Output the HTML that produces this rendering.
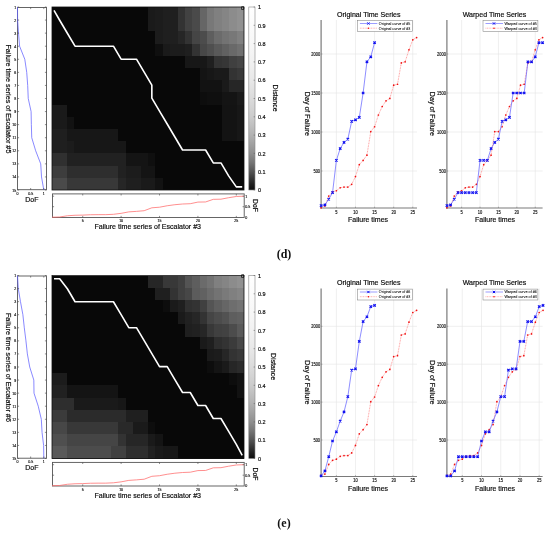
<!DOCTYPE html><html><head><meta charset="utf-8"><style>html,body{margin:0;padding:0;background:#fff;width:550px;height:533px;overflow:hidden}svg{display:block}text{font-family:'Liberation Sans', Arial, sans-serif}</style></head><body>
<svg width="550" height="533" viewBox="0 0 550 533">
<defs><linearGradient id="cb" x1="0" y1="0" x2="0" y2="1"><stop offset="0.000" stop-color="#ffffff"/><stop offset="0.100" stop-color="#fbfbfb"/><stop offset="0.200" stop-color="#f7f7f7"/><stop offset="0.300" stop-color="#f1f1f1"/><stop offset="0.400" stop-color="#e8e8e8"/><stop offset="0.500" stop-color="#dbdbdb"/><stop offset="0.600" stop-color="#cccccc"/><stop offset="0.700" stop-color="#b2b2b2"/><stop offset="0.800" stop-color="#8f8f8f"/><stop offset="0.850" stop-color="#757575"/><stop offset="0.900" stop-color="#545454"/><stop offset="0.950" stop-color="#2e2e2e"/><stop offset="0.970" stop-color="#1f1f1f"/><stop offset="1.000" stop-color="#0d0d0d"/></linearGradient></defs>
<rect width="550" height="533" fill="#fff"/>
<g shape-rendering="crispEdges">
<rect x="52.00" y="7.00" width="7.98" height="12.80" fill="#080808"/>
<rect x="59.38" y="7.00" width="7.98" height="12.80" fill="#080808"/>
<rect x="66.77" y="7.00" width="7.98" height="12.80" fill="#080808"/>
<rect x="74.15" y="7.00" width="7.98" height="12.80" fill="#080808"/>
<rect x="81.54" y="7.00" width="7.98" height="12.80" fill="#080808"/>
<rect x="88.92" y="7.00" width="7.98" height="12.80" fill="#080808"/>
<rect x="96.31" y="7.00" width="7.98" height="12.80" fill="#080808"/>
<rect x="103.69" y="7.00" width="7.98" height="12.80" fill="#080808"/>
<rect x="111.08" y="7.00" width="7.98" height="12.80" fill="#080808"/>
<rect x="118.46" y="7.00" width="7.98" height="12.80" fill="#080808"/>
<rect x="125.85" y="7.00" width="7.98" height="12.80" fill="#080808"/>
<rect x="133.23" y="7.00" width="7.98" height="12.80" fill="#080808"/>
<rect x="140.62" y="7.00" width="7.98" height="12.80" fill="#080808"/>
<rect x="148.00" y="7.00" width="7.98" height="12.80" fill="#1a1a1a"/>
<rect x="155.38" y="7.00" width="7.98" height="12.80" fill="#1c1c1c"/>
<rect x="162.77" y="7.00" width="7.98" height="12.80" fill="#1f1f1f"/>
<rect x="170.15" y="7.00" width="7.98" height="12.80" fill="#1f1f1f"/>
<rect x="177.54" y="7.00" width="7.98" height="12.80" fill="#333333"/>
<rect x="184.92" y="7.00" width="7.98" height="12.80" fill="#424242"/>
<rect x="192.31" y="7.00" width="7.98" height="12.80" fill="#4a4a4a"/>
<rect x="199.69" y="7.00" width="7.98" height="12.80" fill="#666666"/>
<rect x="207.08" y="7.00" width="7.98" height="12.80" fill="#787878"/>
<rect x="214.46" y="7.00" width="7.98" height="12.80" fill="#808080"/>
<rect x="221.85" y="7.00" width="7.98" height="12.80" fill="#858585"/>
<rect x="229.23" y="7.00" width="7.98" height="12.80" fill="#8c8c8c"/>
<rect x="236.62" y="7.00" width="7.38" height="12.80" fill="#919191"/>
<rect x="52.00" y="19.20" width="7.98" height="12.80" fill="#080808"/>
<rect x="59.38" y="19.20" width="7.98" height="12.80" fill="#080808"/>
<rect x="66.77" y="19.20" width="7.98" height="12.80" fill="#080808"/>
<rect x="74.15" y="19.20" width="7.98" height="12.80" fill="#080808"/>
<rect x="81.54" y="19.20" width="7.98" height="12.80" fill="#080808"/>
<rect x="88.92" y="19.20" width="7.98" height="12.80" fill="#080808"/>
<rect x="96.31" y="19.20" width="7.98" height="12.80" fill="#080808"/>
<rect x="103.69" y="19.20" width="7.98" height="12.80" fill="#080808"/>
<rect x="111.08" y="19.20" width="7.98" height="12.80" fill="#080808"/>
<rect x="118.46" y="19.20" width="7.98" height="12.80" fill="#080808"/>
<rect x="125.85" y="19.20" width="7.98" height="12.80" fill="#080808"/>
<rect x="133.23" y="19.20" width="7.98" height="12.80" fill="#080808"/>
<rect x="140.62" y="19.20" width="7.98" height="12.80" fill="#080808"/>
<rect x="148.00" y="19.20" width="7.98" height="12.80" fill="#1a1a1a"/>
<rect x="155.38" y="19.20" width="7.98" height="12.80" fill="#1c1c1c"/>
<rect x="162.77" y="19.20" width="7.98" height="12.80" fill="#1f1f1f"/>
<rect x="170.15" y="19.20" width="7.98" height="12.80" fill="#1f1f1f"/>
<rect x="177.54" y="19.20" width="7.98" height="12.80" fill="#333333"/>
<rect x="184.92" y="19.20" width="7.98" height="12.80" fill="#424242"/>
<rect x="192.31" y="19.20" width="7.98" height="12.80" fill="#4a4a4a"/>
<rect x="199.69" y="19.20" width="7.98" height="12.80" fill="#666666"/>
<rect x="207.08" y="19.20" width="7.98" height="12.80" fill="#787878"/>
<rect x="214.46" y="19.20" width="7.98" height="12.80" fill="#808080"/>
<rect x="221.85" y="19.20" width="7.98" height="12.80" fill="#858585"/>
<rect x="229.23" y="19.20" width="7.98" height="12.80" fill="#8c8c8c"/>
<rect x="236.62" y="19.20" width="7.38" height="12.80" fill="#919191"/>
<rect x="52.00" y="31.40" width="7.98" height="12.80" fill="#080808"/>
<rect x="59.38" y="31.40" width="7.98" height="12.80" fill="#080808"/>
<rect x="66.77" y="31.40" width="7.98" height="12.80" fill="#080808"/>
<rect x="74.15" y="31.40" width="7.98" height="12.80" fill="#080808"/>
<rect x="81.54" y="31.40" width="7.98" height="12.80" fill="#080808"/>
<rect x="88.92" y="31.40" width="7.98" height="12.80" fill="#080808"/>
<rect x="96.31" y="31.40" width="7.98" height="12.80" fill="#080808"/>
<rect x="103.69" y="31.40" width="7.98" height="12.80" fill="#080808"/>
<rect x="111.08" y="31.40" width="7.98" height="12.80" fill="#080808"/>
<rect x="118.46" y="31.40" width="7.98" height="12.80" fill="#080808"/>
<rect x="125.85" y="31.40" width="7.98" height="12.80" fill="#080808"/>
<rect x="133.23" y="31.40" width="7.98" height="12.80" fill="#080808"/>
<rect x="140.62" y="31.40" width="7.98" height="12.80" fill="#080808"/>
<rect x="148.00" y="31.40" width="7.98" height="12.80" fill="#080808"/>
<rect x="155.38" y="31.40" width="7.98" height="12.80" fill="#1c1c1c"/>
<rect x="162.77" y="31.40" width="7.98" height="12.80" fill="#1f1f1f"/>
<rect x="170.15" y="31.40" width="7.98" height="12.80" fill="#1f1f1f"/>
<rect x="177.54" y="31.40" width="7.98" height="12.80" fill="#262626"/>
<rect x="184.92" y="31.40" width="7.98" height="12.80" fill="#333333"/>
<rect x="192.31" y="31.40" width="7.98" height="12.80" fill="#454545"/>
<rect x="199.69" y="31.40" width="7.98" height="12.80" fill="#4c4c4c"/>
<rect x="207.08" y="31.40" width="7.98" height="12.80" fill="#5e5e5e"/>
<rect x="214.46" y="31.40" width="7.98" height="12.80" fill="#6b6b6b"/>
<rect x="221.85" y="31.40" width="7.98" height="12.80" fill="#737373"/>
<rect x="229.23" y="31.40" width="7.98" height="12.80" fill="#787878"/>
<rect x="236.62" y="31.40" width="7.38" height="12.80" fill="#808080"/>
<rect x="52.00" y="43.60" width="7.98" height="12.80" fill="#080808"/>
<rect x="59.38" y="43.60" width="7.98" height="12.80" fill="#080808"/>
<rect x="66.77" y="43.60" width="7.98" height="12.80" fill="#080808"/>
<rect x="74.15" y="43.60" width="7.98" height="12.80" fill="#080808"/>
<rect x="81.54" y="43.60" width="7.98" height="12.80" fill="#080808"/>
<rect x="88.92" y="43.60" width="7.98" height="12.80" fill="#080808"/>
<rect x="96.31" y="43.60" width="7.98" height="12.80" fill="#080808"/>
<rect x="103.69" y="43.60" width="7.98" height="12.80" fill="#080808"/>
<rect x="111.08" y="43.60" width="7.98" height="12.80" fill="#080808"/>
<rect x="118.46" y="43.60" width="7.98" height="12.80" fill="#080808"/>
<rect x="125.85" y="43.60" width="7.98" height="12.80" fill="#080808"/>
<rect x="133.23" y="43.60" width="7.98" height="12.80" fill="#080808"/>
<rect x="140.62" y="43.60" width="7.98" height="12.80" fill="#080808"/>
<rect x="148.00" y="43.60" width="7.98" height="12.80" fill="#080808"/>
<rect x="155.38" y="43.60" width="7.98" height="12.80" fill="#0f0f0f"/>
<rect x="162.77" y="43.60" width="7.98" height="12.80" fill="#1a1a1a"/>
<rect x="170.15" y="43.60" width="7.98" height="12.80" fill="#1c1c1c"/>
<rect x="177.54" y="43.60" width="7.98" height="12.80" fill="#1c1c1c"/>
<rect x="184.92" y="43.60" width="7.98" height="12.80" fill="#1f1f1f"/>
<rect x="192.31" y="43.60" width="7.98" height="12.80" fill="#333333"/>
<rect x="199.69" y="43.60" width="7.98" height="12.80" fill="#474747"/>
<rect x="207.08" y="43.60" width="7.98" height="12.80" fill="#4f4f4f"/>
<rect x="214.46" y="43.60" width="7.98" height="12.80" fill="#595959"/>
<rect x="221.85" y="43.60" width="7.98" height="12.80" fill="#616161"/>
<rect x="229.23" y="43.60" width="7.98" height="12.80" fill="#696969"/>
<rect x="236.62" y="43.60" width="7.38" height="12.80" fill="#707070"/>
<rect x="52.00" y="55.80" width="7.98" height="12.80" fill="#080808"/>
<rect x="59.38" y="55.80" width="7.98" height="12.80" fill="#080808"/>
<rect x="66.77" y="55.80" width="7.98" height="12.80" fill="#080808"/>
<rect x="74.15" y="55.80" width="7.98" height="12.80" fill="#080808"/>
<rect x="81.54" y="55.80" width="7.98" height="12.80" fill="#080808"/>
<rect x="88.92" y="55.80" width="7.98" height="12.80" fill="#080808"/>
<rect x="96.31" y="55.80" width="7.98" height="12.80" fill="#080808"/>
<rect x="103.69" y="55.80" width="7.98" height="12.80" fill="#080808"/>
<rect x="111.08" y="55.80" width="7.98" height="12.80" fill="#080808"/>
<rect x="118.46" y="55.80" width="7.98" height="12.80" fill="#080808"/>
<rect x="125.85" y="55.80" width="7.98" height="12.80" fill="#080808"/>
<rect x="133.23" y="55.80" width="7.98" height="12.80" fill="#080808"/>
<rect x="140.62" y="55.80" width="7.98" height="12.80" fill="#080808"/>
<rect x="148.00" y="55.80" width="7.98" height="12.80" fill="#080808"/>
<rect x="155.38" y="55.80" width="7.98" height="12.80" fill="#080808"/>
<rect x="162.77" y="55.80" width="7.98" height="12.80" fill="#080808"/>
<rect x="170.15" y="55.80" width="7.98" height="12.80" fill="#080808"/>
<rect x="177.54" y="55.80" width="7.98" height="12.80" fill="#080808"/>
<rect x="184.92" y="55.80" width="7.98" height="12.80" fill="#171717"/>
<rect x="192.31" y="55.80" width="7.98" height="12.80" fill="#171717"/>
<rect x="199.69" y="55.80" width="7.98" height="12.80" fill="#171717"/>
<rect x="207.08" y="55.80" width="7.98" height="12.80" fill="#1f1f1f"/>
<rect x="214.46" y="55.80" width="7.98" height="12.80" fill="#333333"/>
<rect x="221.85" y="55.80" width="7.98" height="12.80" fill="#363636"/>
<rect x="229.23" y="55.80" width="7.98" height="12.80" fill="#404040"/>
<rect x="236.62" y="55.80" width="7.38" height="12.80" fill="#454545"/>
<rect x="52.00" y="68.00" width="7.98" height="12.80" fill="#080808"/>
<rect x="59.38" y="68.00" width="7.98" height="12.80" fill="#080808"/>
<rect x="66.77" y="68.00" width="7.98" height="12.80" fill="#080808"/>
<rect x="74.15" y="68.00" width="7.98" height="12.80" fill="#080808"/>
<rect x="81.54" y="68.00" width="7.98" height="12.80" fill="#080808"/>
<rect x="88.92" y="68.00" width="7.98" height="12.80" fill="#080808"/>
<rect x="96.31" y="68.00" width="7.98" height="12.80" fill="#080808"/>
<rect x="103.69" y="68.00" width="7.98" height="12.80" fill="#080808"/>
<rect x="111.08" y="68.00" width="7.98" height="12.80" fill="#080808"/>
<rect x="118.46" y="68.00" width="7.98" height="12.80" fill="#080808"/>
<rect x="125.85" y="68.00" width="7.98" height="12.80" fill="#080808"/>
<rect x="133.23" y="68.00" width="7.98" height="12.80" fill="#080808"/>
<rect x="140.62" y="68.00" width="7.98" height="12.80" fill="#080808"/>
<rect x="148.00" y="68.00" width="7.98" height="12.80" fill="#080808"/>
<rect x="155.38" y="68.00" width="7.98" height="12.80" fill="#080808"/>
<rect x="162.77" y="68.00" width="7.98" height="12.80" fill="#080808"/>
<rect x="170.15" y="68.00" width="7.98" height="12.80" fill="#080808"/>
<rect x="177.54" y="68.00" width="7.98" height="12.80" fill="#080808"/>
<rect x="184.92" y="68.00" width="7.98" height="12.80" fill="#080808"/>
<rect x="192.31" y="68.00" width="7.98" height="12.80" fill="#080808"/>
<rect x="199.69" y="68.00" width="7.98" height="12.80" fill="#141414"/>
<rect x="207.08" y="68.00" width="7.98" height="12.80" fill="#171717"/>
<rect x="214.46" y="68.00" width="7.98" height="12.80" fill="#1a1a1a"/>
<rect x="221.85" y="68.00" width="7.98" height="12.80" fill="#1a1a1a"/>
<rect x="229.23" y="68.00" width="7.98" height="12.80" fill="#333333"/>
<rect x="236.62" y="68.00" width="7.38" height="12.80" fill="#383838"/>
<rect x="52.00" y="80.20" width="7.98" height="12.80" fill="#080808"/>
<rect x="59.38" y="80.20" width="7.98" height="12.80" fill="#080808"/>
<rect x="66.77" y="80.20" width="7.98" height="12.80" fill="#080808"/>
<rect x="74.15" y="80.20" width="7.98" height="12.80" fill="#080808"/>
<rect x="81.54" y="80.20" width="7.98" height="12.80" fill="#080808"/>
<rect x="88.92" y="80.20" width="7.98" height="12.80" fill="#080808"/>
<rect x="96.31" y="80.20" width="7.98" height="12.80" fill="#080808"/>
<rect x="103.69" y="80.20" width="7.98" height="12.80" fill="#080808"/>
<rect x="111.08" y="80.20" width="7.98" height="12.80" fill="#080808"/>
<rect x="118.46" y="80.20" width="7.98" height="12.80" fill="#080808"/>
<rect x="125.85" y="80.20" width="7.98" height="12.80" fill="#080808"/>
<rect x="133.23" y="80.20" width="7.98" height="12.80" fill="#080808"/>
<rect x="140.62" y="80.20" width="7.98" height="12.80" fill="#080808"/>
<rect x="148.00" y="80.20" width="7.98" height="12.80" fill="#080808"/>
<rect x="155.38" y="80.20" width="7.98" height="12.80" fill="#080808"/>
<rect x="162.77" y="80.20" width="7.98" height="12.80" fill="#080808"/>
<rect x="170.15" y="80.20" width="7.98" height="12.80" fill="#080808"/>
<rect x="177.54" y="80.20" width="7.98" height="12.80" fill="#080808"/>
<rect x="184.92" y="80.20" width="7.98" height="12.80" fill="#080808"/>
<rect x="192.31" y="80.20" width="7.98" height="12.80" fill="#080808"/>
<rect x="199.69" y="80.20" width="7.98" height="12.80" fill="#121212"/>
<rect x="207.08" y="80.20" width="7.98" height="12.80" fill="#121212"/>
<rect x="214.46" y="80.20" width="7.98" height="12.80" fill="#121212"/>
<rect x="221.85" y="80.20" width="7.98" height="12.80" fill="#1a1a1a"/>
<rect x="229.23" y="80.20" width="7.98" height="12.80" fill="#262626"/>
<rect x="236.62" y="80.20" width="7.38" height="12.80" fill="#262626"/>
<rect x="52.00" y="92.40" width="7.98" height="12.80" fill="#080808"/>
<rect x="59.38" y="92.40" width="7.98" height="12.80" fill="#080808"/>
<rect x="66.77" y="92.40" width="7.98" height="12.80" fill="#080808"/>
<rect x="74.15" y="92.40" width="7.98" height="12.80" fill="#080808"/>
<rect x="81.54" y="92.40" width="7.98" height="12.80" fill="#080808"/>
<rect x="88.92" y="92.40" width="7.98" height="12.80" fill="#080808"/>
<rect x="96.31" y="92.40" width="7.98" height="12.80" fill="#080808"/>
<rect x="103.69" y="92.40" width="7.98" height="12.80" fill="#080808"/>
<rect x="111.08" y="92.40" width="7.98" height="12.80" fill="#080808"/>
<rect x="118.46" y="92.40" width="7.98" height="12.80" fill="#080808"/>
<rect x="125.85" y="92.40" width="7.98" height="12.80" fill="#080808"/>
<rect x="133.23" y="92.40" width="7.98" height="12.80" fill="#080808"/>
<rect x="140.62" y="92.40" width="7.98" height="12.80" fill="#080808"/>
<rect x="148.00" y="92.40" width="7.98" height="12.80" fill="#080808"/>
<rect x="155.38" y="92.40" width="7.98" height="12.80" fill="#080808"/>
<rect x="162.77" y="92.40" width="7.98" height="12.80" fill="#080808"/>
<rect x="170.15" y="92.40" width="7.98" height="12.80" fill="#080808"/>
<rect x="177.54" y="92.40" width="7.98" height="12.80" fill="#080808"/>
<rect x="184.92" y="92.40" width="7.98" height="12.80" fill="#080808"/>
<rect x="192.31" y="92.40" width="7.98" height="12.80" fill="#080808"/>
<rect x="199.69" y="92.40" width="7.98" height="12.80" fill="#0d0d0d"/>
<rect x="207.08" y="92.40" width="7.98" height="12.80" fill="#0f0f0f"/>
<rect x="214.46" y="92.40" width="7.98" height="12.80" fill="#0f0f0f"/>
<rect x="221.85" y="92.40" width="7.98" height="12.80" fill="#141414"/>
<rect x="229.23" y="92.40" width="7.98" height="12.80" fill="#141414"/>
<rect x="236.62" y="92.40" width="7.38" height="12.80" fill="#1a1a1a"/>
<rect x="52.00" y="104.60" width="7.98" height="12.80" fill="#1a1a1a"/>
<rect x="59.38" y="104.60" width="7.98" height="12.80" fill="#1a1a1a"/>
<rect x="66.77" y="104.60" width="7.98" height="12.80" fill="#080808"/>
<rect x="74.15" y="104.60" width="7.98" height="12.80" fill="#080808"/>
<rect x="81.54" y="104.60" width="7.98" height="12.80" fill="#080808"/>
<rect x="88.92" y="104.60" width="7.98" height="12.80" fill="#080808"/>
<rect x="96.31" y="104.60" width="7.98" height="12.80" fill="#080808"/>
<rect x="103.69" y="104.60" width="7.98" height="12.80" fill="#080808"/>
<rect x="111.08" y="104.60" width="7.98" height="12.80" fill="#080808"/>
<rect x="118.46" y="104.60" width="7.98" height="12.80" fill="#080808"/>
<rect x="125.85" y="104.60" width="7.98" height="12.80" fill="#080808"/>
<rect x="133.23" y="104.60" width="7.98" height="12.80" fill="#080808"/>
<rect x="140.62" y="104.60" width="7.98" height="12.80" fill="#080808"/>
<rect x="148.00" y="104.60" width="7.98" height="12.80" fill="#080808"/>
<rect x="155.38" y="104.60" width="7.98" height="12.80" fill="#080808"/>
<rect x="162.77" y="104.60" width="7.98" height="12.80" fill="#080808"/>
<rect x="170.15" y="104.60" width="7.98" height="12.80" fill="#080808"/>
<rect x="177.54" y="104.60" width="7.98" height="12.80" fill="#080808"/>
<rect x="184.92" y="104.60" width="7.98" height="12.80" fill="#080808"/>
<rect x="192.31" y="104.60" width="7.98" height="12.80" fill="#080808"/>
<rect x="199.69" y="104.60" width="7.98" height="12.80" fill="#080808"/>
<rect x="207.08" y="104.60" width="7.98" height="12.80" fill="#080808"/>
<rect x="214.46" y="104.60" width="7.98" height="12.80" fill="#080808"/>
<rect x="221.85" y="104.60" width="7.98" height="12.80" fill="#131313"/>
<rect x="229.23" y="104.60" width="7.98" height="12.80" fill="#131313"/>
<rect x="236.62" y="104.60" width="7.38" height="12.80" fill="#171717"/>
<rect x="52.00" y="116.80" width="7.98" height="12.80" fill="#1a1a1a"/>
<rect x="59.38" y="116.80" width="7.98" height="12.80" fill="#1a1a1a"/>
<rect x="66.77" y="116.80" width="7.98" height="12.80" fill="#121212"/>
<rect x="74.15" y="116.80" width="7.98" height="12.80" fill="#080808"/>
<rect x="81.54" y="116.80" width="7.98" height="12.80" fill="#080808"/>
<rect x="88.92" y="116.80" width="7.98" height="12.80" fill="#080808"/>
<rect x="96.31" y="116.80" width="7.98" height="12.80" fill="#080808"/>
<rect x="103.69" y="116.80" width="7.98" height="12.80" fill="#080808"/>
<rect x="111.08" y="116.80" width="7.98" height="12.80" fill="#080808"/>
<rect x="118.46" y="116.80" width="7.98" height="12.80" fill="#080808"/>
<rect x="125.85" y="116.80" width="7.98" height="12.80" fill="#080808"/>
<rect x="133.23" y="116.80" width="7.98" height="12.80" fill="#080808"/>
<rect x="140.62" y="116.80" width="7.98" height="12.80" fill="#080808"/>
<rect x="148.00" y="116.80" width="7.98" height="12.80" fill="#080808"/>
<rect x="155.38" y="116.80" width="7.98" height="12.80" fill="#080808"/>
<rect x="162.77" y="116.80" width="7.98" height="12.80" fill="#080808"/>
<rect x="170.15" y="116.80" width="7.98" height="12.80" fill="#080808"/>
<rect x="177.54" y="116.80" width="7.98" height="12.80" fill="#080808"/>
<rect x="184.92" y="116.80" width="7.98" height="12.80" fill="#080808"/>
<rect x="192.31" y="116.80" width="7.98" height="12.80" fill="#080808"/>
<rect x="199.69" y="116.80" width="7.98" height="12.80" fill="#080808"/>
<rect x="207.08" y="116.80" width="7.98" height="12.80" fill="#080808"/>
<rect x="214.46" y="116.80" width="7.98" height="12.80" fill="#080808"/>
<rect x="221.85" y="116.80" width="7.98" height="12.80" fill="#131313"/>
<rect x="229.23" y="116.80" width="7.98" height="12.80" fill="#131313"/>
<rect x="236.62" y="116.80" width="7.38" height="12.80" fill="#171717"/>
<rect x="52.00" y="129.00" width="7.98" height="12.80" fill="#1f1f1f"/>
<rect x="59.38" y="129.00" width="7.98" height="12.80" fill="#1f1f1f"/>
<rect x="66.77" y="129.00" width="7.98" height="12.80" fill="#171717"/>
<rect x="74.15" y="129.00" width="7.98" height="12.80" fill="#171717"/>
<rect x="81.54" y="129.00" width="7.98" height="12.80" fill="#171717"/>
<rect x="88.92" y="129.00" width="7.98" height="12.80" fill="#171717"/>
<rect x="96.31" y="129.00" width="7.98" height="12.80" fill="#171717"/>
<rect x="103.69" y="129.00" width="7.98" height="12.80" fill="#171717"/>
<rect x="111.08" y="129.00" width="7.98" height="12.80" fill="#171717"/>
<rect x="118.46" y="129.00" width="7.98" height="12.80" fill="#080808"/>
<rect x="125.85" y="129.00" width="7.98" height="12.80" fill="#080808"/>
<rect x="133.23" y="129.00" width="7.98" height="12.80" fill="#080808"/>
<rect x="140.62" y="129.00" width="7.98" height="12.80" fill="#080808"/>
<rect x="148.00" y="129.00" width="7.98" height="12.80" fill="#080808"/>
<rect x="155.38" y="129.00" width="7.98" height="12.80" fill="#080808"/>
<rect x="162.77" y="129.00" width="7.98" height="12.80" fill="#080808"/>
<rect x="170.15" y="129.00" width="7.98" height="12.80" fill="#080808"/>
<rect x="177.54" y="129.00" width="7.98" height="12.80" fill="#080808"/>
<rect x="184.92" y="129.00" width="7.98" height="12.80" fill="#080808"/>
<rect x="192.31" y="129.00" width="7.98" height="12.80" fill="#080808"/>
<rect x="199.69" y="129.00" width="7.98" height="12.80" fill="#080808"/>
<rect x="207.08" y="129.00" width="7.98" height="12.80" fill="#080808"/>
<rect x="214.46" y="129.00" width="7.98" height="12.80" fill="#080808"/>
<rect x="221.85" y="129.00" width="7.98" height="12.80" fill="#131313"/>
<rect x="229.23" y="129.00" width="7.98" height="12.80" fill="#131313"/>
<rect x="236.62" y="129.00" width="7.38" height="12.80" fill="#171717"/>
<rect x="52.00" y="141.20" width="7.98" height="12.80" fill="#1f1f1f"/>
<rect x="59.38" y="141.20" width="7.98" height="12.80" fill="#1f1f1f"/>
<rect x="66.77" y="141.20" width="7.98" height="12.80" fill="#1c1c1c"/>
<rect x="74.15" y="141.20" width="7.98" height="12.80" fill="#171717"/>
<rect x="81.54" y="141.20" width="7.98" height="12.80" fill="#171717"/>
<rect x="88.92" y="141.20" width="7.98" height="12.80" fill="#171717"/>
<rect x="96.31" y="141.20" width="7.98" height="12.80" fill="#171717"/>
<rect x="103.69" y="141.20" width="7.98" height="12.80" fill="#171717"/>
<rect x="111.08" y="141.20" width="7.98" height="12.80" fill="#171717"/>
<rect x="118.46" y="141.20" width="7.98" height="12.80" fill="#171717"/>
<rect x="125.85" y="141.20" width="7.98" height="12.80" fill="#080808"/>
<rect x="133.23" y="141.20" width="7.98" height="12.80" fill="#080808"/>
<rect x="140.62" y="141.20" width="7.98" height="12.80" fill="#080808"/>
<rect x="148.00" y="141.20" width="7.98" height="12.80" fill="#080808"/>
<rect x="155.38" y="141.20" width="7.98" height="12.80" fill="#080808"/>
<rect x="162.77" y="141.20" width="7.98" height="12.80" fill="#080808"/>
<rect x="170.15" y="141.20" width="7.98" height="12.80" fill="#080808"/>
<rect x="177.54" y="141.20" width="7.98" height="12.80" fill="#080808"/>
<rect x="184.92" y="141.20" width="7.98" height="12.80" fill="#080808"/>
<rect x="192.31" y="141.20" width="7.98" height="12.80" fill="#080808"/>
<rect x="199.69" y="141.20" width="7.98" height="12.80" fill="#080808"/>
<rect x="207.08" y="141.20" width="7.98" height="12.80" fill="#080808"/>
<rect x="214.46" y="141.20" width="7.98" height="12.80" fill="#080808"/>
<rect x="221.85" y="141.20" width="7.98" height="12.80" fill="#080808"/>
<rect x="229.23" y="141.20" width="7.98" height="12.80" fill="#080808"/>
<rect x="236.62" y="141.20" width="7.38" height="12.80" fill="#080808"/>
<rect x="52.00" y="153.40" width="7.98" height="12.80" fill="#303030"/>
<rect x="59.38" y="153.40" width="7.98" height="12.80" fill="#303030"/>
<rect x="66.77" y="153.40" width="7.98" height="12.80" fill="#212121"/>
<rect x="74.15" y="153.40" width="7.98" height="12.80" fill="#212121"/>
<rect x="81.54" y="153.40" width="7.98" height="12.80" fill="#212121"/>
<rect x="88.92" y="153.40" width="7.98" height="12.80" fill="#212121"/>
<rect x="96.31" y="153.40" width="7.98" height="12.80" fill="#212121"/>
<rect x="103.69" y="153.40" width="7.98" height="12.80" fill="#212121"/>
<rect x="111.08" y="153.40" width="7.98" height="12.80" fill="#212121"/>
<rect x="118.46" y="153.40" width="7.98" height="12.80" fill="#212121"/>
<rect x="125.85" y="153.40" width="7.98" height="12.80" fill="#141414"/>
<rect x="133.23" y="153.40" width="7.98" height="12.80" fill="#141414"/>
<rect x="140.62" y="153.40" width="7.98" height="12.80" fill="#141414"/>
<rect x="148.00" y="153.40" width="7.98" height="12.80" fill="#0f0f0f"/>
<rect x="155.38" y="153.40" width="7.98" height="12.80" fill="#080808"/>
<rect x="162.77" y="153.40" width="7.98" height="12.80" fill="#080808"/>
<rect x="170.15" y="153.40" width="7.98" height="12.80" fill="#080808"/>
<rect x="177.54" y="153.40" width="7.98" height="12.80" fill="#080808"/>
<rect x="184.92" y="153.40" width="7.98" height="12.80" fill="#080808"/>
<rect x="192.31" y="153.40" width="7.98" height="12.80" fill="#080808"/>
<rect x="199.69" y="153.40" width="7.98" height="12.80" fill="#080808"/>
<rect x="207.08" y="153.40" width="7.98" height="12.80" fill="#080808"/>
<rect x="214.46" y="153.40" width="7.98" height="12.80" fill="#080808"/>
<rect x="221.85" y="153.40" width="7.98" height="12.80" fill="#080808"/>
<rect x="229.23" y="153.40" width="7.98" height="12.80" fill="#080808"/>
<rect x="236.62" y="153.40" width="7.38" height="12.80" fill="#080808"/>
<rect x="52.00" y="165.60" width="7.98" height="12.80" fill="#3d3d3d"/>
<rect x="59.38" y="165.60" width="7.98" height="12.80" fill="#3d3d3d"/>
<rect x="66.77" y="165.60" width="7.98" height="12.80" fill="#2e2e2e"/>
<rect x="74.15" y="165.60" width="7.98" height="12.80" fill="#2e2e2e"/>
<rect x="81.54" y="165.60" width="7.98" height="12.80" fill="#2e2e2e"/>
<rect x="88.92" y="165.60" width="7.98" height="12.80" fill="#2e2e2e"/>
<rect x="96.31" y="165.60" width="7.98" height="12.80" fill="#2e2e2e"/>
<rect x="103.69" y="165.60" width="7.98" height="12.80" fill="#2e2e2e"/>
<rect x="111.08" y="165.60" width="7.98" height="12.80" fill="#2e2e2e"/>
<rect x="118.46" y="165.60" width="7.98" height="12.80" fill="#212121"/>
<rect x="125.85" y="165.60" width="7.98" height="12.80" fill="#1c1c1c"/>
<rect x="133.23" y="165.60" width="7.98" height="12.80" fill="#1c1c1c"/>
<rect x="140.62" y="165.60" width="7.98" height="12.80" fill="#141414"/>
<rect x="148.00" y="165.60" width="7.98" height="12.80" fill="#141414"/>
<rect x="155.38" y="165.60" width="7.98" height="12.80" fill="#080808"/>
<rect x="162.77" y="165.60" width="7.98" height="12.80" fill="#080808"/>
<rect x="170.15" y="165.60" width="7.98" height="12.80" fill="#080808"/>
<rect x="177.54" y="165.60" width="7.98" height="12.80" fill="#080808"/>
<rect x="184.92" y="165.60" width="7.98" height="12.80" fill="#080808"/>
<rect x="192.31" y="165.60" width="7.98" height="12.80" fill="#080808"/>
<rect x="199.69" y="165.60" width="7.98" height="12.80" fill="#080808"/>
<rect x="207.08" y="165.60" width="7.98" height="12.80" fill="#080808"/>
<rect x="214.46" y="165.60" width="7.98" height="12.80" fill="#080808"/>
<rect x="221.85" y="165.60" width="7.98" height="12.80" fill="#080808"/>
<rect x="229.23" y="165.60" width="7.98" height="12.80" fill="#080808"/>
<rect x="236.62" y="165.60" width="7.38" height="12.80" fill="#080808"/>
<rect x="52.00" y="177.80" width="7.98" height="12.20" fill="#4a4a4a"/>
<rect x="59.38" y="177.80" width="7.98" height="12.20" fill="#4a4a4a"/>
<rect x="66.77" y="177.80" width="7.98" height="12.20" fill="#383838"/>
<rect x="74.15" y="177.80" width="7.98" height="12.20" fill="#383838"/>
<rect x="81.54" y="177.80" width="7.98" height="12.20" fill="#383838"/>
<rect x="88.92" y="177.80" width="7.98" height="12.20" fill="#383838"/>
<rect x="96.31" y="177.80" width="7.98" height="12.20" fill="#383838"/>
<rect x="103.69" y="177.80" width="7.98" height="12.20" fill="#383838"/>
<rect x="111.08" y="177.80" width="7.98" height="12.20" fill="#383838"/>
<rect x="118.46" y="177.80" width="7.98" height="12.20" fill="#262626"/>
<rect x="125.85" y="177.80" width="7.98" height="12.20" fill="#1f1f1f"/>
<rect x="133.23" y="177.80" width="7.98" height="12.20" fill="#1f1f1f"/>
<rect x="140.62" y="177.80" width="7.98" height="12.20" fill="#1a1a1a"/>
<rect x="148.00" y="177.80" width="7.98" height="12.20" fill="#1a1a1a"/>
<rect x="155.38" y="177.80" width="7.98" height="12.20" fill="#121212"/>
<rect x="162.77" y="177.80" width="7.98" height="12.20" fill="#080808"/>
<rect x="170.15" y="177.80" width="7.98" height="12.20" fill="#080808"/>
<rect x="177.54" y="177.80" width="7.98" height="12.20" fill="#080808"/>
<rect x="184.92" y="177.80" width="7.98" height="12.20" fill="#080808"/>
<rect x="192.31" y="177.80" width="7.98" height="12.20" fill="#080808"/>
<rect x="199.69" y="177.80" width="7.98" height="12.20" fill="#080808"/>
<rect x="207.08" y="177.80" width="7.98" height="12.20" fill="#080808"/>
<rect x="214.46" y="177.80" width="7.98" height="12.20" fill="#080808"/>
<rect x="221.85" y="177.80" width="7.98" height="12.20" fill="#080808"/>
<rect x="229.23" y="177.80" width="7.98" height="12.20" fill="#080808"/>
<rect x="236.62" y="177.80" width="7.38" height="12.20" fill="#080808"/>
</g>
<rect x="52" y="7" width="192" height="183" fill="none" stroke="#111" stroke-width="0.8"/>
<polyline points="54.00,10.30 59.68,20.27 67.36,33.24 75.04,46.21 82.72,46.21 90.40,46.21 98.08,46.21 105.76,46.21 113.44,46.21 121.12,59.18 128.80,59.18 136.48,59.18 144.16,72.15 151.84,85.12 151.84,98.09 159.52,111.06 167.20,124.03 174.88,137.00 182.56,149.97 190.24,149.97 197.92,149.97 205.60,149.97 213.28,162.94 220.96,162.94 228.64,175.91 236.32,186.90 242.20,186.90" fill="none" stroke="#fff" stroke-width="1.6" stroke-linejoin="round"/>
<text transform="translate(242.60 9.60)" font-size="6" text-anchor="middle" fill="#111" stroke="#000" stroke-width="0.18">0</text>
<rect x="248.8" y="7" width="6.2" height="183" fill="url(#cb)" stroke="#888" stroke-width="0.6"/>
<text transform="translate(258.00 9.25) scale(0.9 1)" font-size="6.1" text-anchor="start" fill="#111" stroke="#000" stroke-width="0.18">1</text>
<line x1="253.6" y1="7.00" x2="255" y2="7.00" stroke="#555" stroke-width="0.5"/>
<text transform="translate(258.00 27.55) scale(0.9 1)" font-size="6.1" text-anchor="start" fill="#111" stroke="#000" stroke-width="0.18">0.9</text>
<line x1="253.6" y1="25.30" x2="255" y2="25.30" stroke="#555" stroke-width="0.5"/>
<text transform="translate(258.00 45.85) scale(0.9 1)" font-size="6.1" text-anchor="start" fill="#111" stroke="#000" stroke-width="0.18">0.8</text>
<line x1="253.6" y1="43.60" x2="255" y2="43.60" stroke="#555" stroke-width="0.5"/>
<text transform="translate(258.00 64.15) scale(0.9 1)" font-size="6.1" text-anchor="start" fill="#111" stroke="#000" stroke-width="0.18">0.7</text>
<line x1="253.6" y1="61.90" x2="255" y2="61.90" stroke="#555" stroke-width="0.5"/>
<text transform="translate(258.00 82.45) scale(0.9 1)" font-size="6.1" text-anchor="start" fill="#111" stroke="#000" stroke-width="0.18">0.6</text>
<line x1="253.6" y1="80.20" x2="255" y2="80.20" stroke="#555" stroke-width="0.5"/>
<text transform="translate(258.00 100.75) scale(0.9 1)" font-size="6.1" text-anchor="start" fill="#111" stroke="#000" stroke-width="0.18">0.5</text>
<line x1="253.6" y1="98.50" x2="255" y2="98.50" stroke="#555" stroke-width="0.5"/>
<text transform="translate(258.00 119.05) scale(0.9 1)" font-size="6.1" text-anchor="start" fill="#111" stroke="#000" stroke-width="0.18">0.4</text>
<line x1="253.6" y1="116.80" x2="255" y2="116.80" stroke="#555" stroke-width="0.5"/>
<text transform="translate(258.00 137.35) scale(0.9 1)" font-size="6.1" text-anchor="start" fill="#111" stroke="#000" stroke-width="0.18">0.3</text>
<line x1="253.6" y1="135.10" x2="255" y2="135.10" stroke="#555" stroke-width="0.5"/>
<text transform="translate(258.00 155.65) scale(0.9 1)" font-size="6.1" text-anchor="start" fill="#111" stroke="#000" stroke-width="0.18">0.2</text>
<line x1="253.6" y1="153.40" x2="255" y2="153.40" stroke="#555" stroke-width="0.5"/>
<text transform="translate(258.00 173.95) scale(0.9 1)" font-size="6.1" text-anchor="start" fill="#111" stroke="#000" stroke-width="0.18">0.1</text>
<line x1="253.6" y1="171.70" x2="255" y2="171.70" stroke="#555" stroke-width="0.5"/>
<text transform="translate(258.00 192.25) scale(0.9 1)" font-size="6.1" text-anchor="start" fill="#111" stroke="#000" stroke-width="0.18">0</text>
<line x1="253.6" y1="190.00" x2="255" y2="190.00" stroke="#555" stroke-width="0.5"/>
<text transform="translate(273.10 98.05) rotate(90)" font-size="6.9" text-anchor="middle" fill="#111" stroke="#000" stroke-width="0.18" textLength="26.9" lengthAdjust="spacingAndGlyphs">Distance</text>
<rect x="17.5" y="7.5" width="29.0" height="182.2" fill="#fff" stroke="#555" stroke-width="0.9"/>
<polyline points="17.50,7.00 17.61,20.07 18.53,33.14 19.60,46.21 24.80,59.29 26.72,72.36 27.70,85.43 28.24,98.50 31.10,111.57 31.35,124.64 31.74,137.71 35.68,150.79 40.72,163.86 41.52,176.93 43.80,190.00" fill="none" stroke="#6262ff" stroke-width="0.75"/>
<text transform="translate(16.20 8.50) scale(0.85 1)" font-size="4.2" text-anchor="end" fill="#222" stroke="#000" stroke-width="0.16">1</text>
<line x1="17.5" y1="7.00" x2="19.1" y2="7.00" stroke="#444" stroke-width="0.6"/>
<line x1="44.9" y1="7.00" x2="46.5" y2="7.00" stroke="#444" stroke-width="0.6"/>
<text transform="translate(16.20 21.57) scale(0.85 1)" font-size="4.2" text-anchor="end" fill="#222" stroke="#000" stroke-width="0.16">2</text>
<line x1="17.5" y1="20.07" x2="19.1" y2="20.07" stroke="#444" stroke-width="0.6"/>
<line x1="44.9" y1="20.07" x2="46.5" y2="20.07" stroke="#444" stroke-width="0.6"/>
<text transform="translate(16.20 34.64) scale(0.85 1)" font-size="4.2" text-anchor="end" fill="#222" stroke="#000" stroke-width="0.16">3</text>
<line x1="17.5" y1="33.14" x2="19.1" y2="33.14" stroke="#444" stroke-width="0.6"/>
<line x1="44.9" y1="33.14" x2="46.5" y2="33.14" stroke="#444" stroke-width="0.6"/>
<text transform="translate(16.20 47.71) scale(0.85 1)" font-size="4.2" text-anchor="end" fill="#222" stroke="#000" stroke-width="0.16">4</text>
<line x1="17.5" y1="46.21" x2="19.1" y2="46.21" stroke="#444" stroke-width="0.6"/>
<line x1="44.9" y1="46.21" x2="46.5" y2="46.21" stroke="#444" stroke-width="0.6"/>
<text transform="translate(16.20 60.79) scale(0.85 1)" font-size="4.2" text-anchor="end" fill="#222" stroke="#000" stroke-width="0.16">5</text>
<line x1="17.5" y1="59.29" x2="19.1" y2="59.29" stroke="#444" stroke-width="0.6"/>
<line x1="44.9" y1="59.29" x2="46.5" y2="59.29" stroke="#444" stroke-width="0.6"/>
<text transform="translate(16.20 73.86) scale(0.85 1)" font-size="4.2" text-anchor="end" fill="#222" stroke="#000" stroke-width="0.16">6</text>
<line x1="17.5" y1="72.36" x2="19.1" y2="72.36" stroke="#444" stroke-width="0.6"/>
<line x1="44.9" y1="72.36" x2="46.5" y2="72.36" stroke="#444" stroke-width="0.6"/>
<text transform="translate(16.20 86.93) scale(0.85 1)" font-size="4.2" text-anchor="end" fill="#222" stroke="#000" stroke-width="0.16">7</text>
<line x1="17.5" y1="85.43" x2="19.1" y2="85.43" stroke="#444" stroke-width="0.6"/>
<line x1="44.9" y1="85.43" x2="46.5" y2="85.43" stroke="#444" stroke-width="0.6"/>
<text transform="translate(16.20 100.00) scale(0.85 1)" font-size="4.2" text-anchor="end" fill="#222" stroke="#000" stroke-width="0.16">8</text>
<line x1="17.5" y1="98.50" x2="19.1" y2="98.50" stroke="#444" stroke-width="0.6"/>
<line x1="44.9" y1="98.50" x2="46.5" y2="98.50" stroke="#444" stroke-width="0.6"/>
<text transform="translate(16.20 113.07) scale(0.85 1)" font-size="4.2" text-anchor="end" fill="#222" stroke="#000" stroke-width="0.16">9</text>
<line x1="17.5" y1="111.57" x2="19.1" y2="111.57" stroke="#444" stroke-width="0.6"/>
<line x1="44.9" y1="111.57" x2="46.5" y2="111.57" stroke="#444" stroke-width="0.6"/>
<text transform="translate(16.20 126.14) scale(0.85 1)" font-size="4.2" text-anchor="end" fill="#222" stroke="#000" stroke-width="0.16">10</text>
<line x1="17.5" y1="124.64" x2="19.1" y2="124.64" stroke="#444" stroke-width="0.6"/>
<line x1="44.9" y1="124.64" x2="46.5" y2="124.64" stroke="#444" stroke-width="0.6"/>
<text transform="translate(16.20 139.21) scale(0.85 1)" font-size="4.2" text-anchor="end" fill="#222" stroke="#000" stroke-width="0.16">11</text>
<line x1="17.5" y1="137.71" x2="19.1" y2="137.71" stroke="#444" stroke-width="0.6"/>
<line x1="44.9" y1="137.71" x2="46.5" y2="137.71" stroke="#444" stroke-width="0.6"/>
<text transform="translate(16.20 152.29) scale(0.85 1)" font-size="4.2" text-anchor="end" fill="#222" stroke="#000" stroke-width="0.16">12</text>
<line x1="17.5" y1="150.79" x2="19.1" y2="150.79" stroke="#444" stroke-width="0.6"/>
<line x1="44.9" y1="150.79" x2="46.5" y2="150.79" stroke="#444" stroke-width="0.6"/>
<text transform="translate(16.20 165.36) scale(0.85 1)" font-size="4.2" text-anchor="end" fill="#222" stroke="#000" stroke-width="0.16">13</text>
<line x1="17.5" y1="163.86" x2="19.1" y2="163.86" stroke="#444" stroke-width="0.6"/>
<line x1="44.9" y1="163.86" x2="46.5" y2="163.86" stroke="#444" stroke-width="0.6"/>
<text transform="translate(16.20 178.43) scale(0.85 1)" font-size="4.2" text-anchor="end" fill="#222" stroke="#000" stroke-width="0.16">14</text>
<line x1="17.5" y1="176.93" x2="19.1" y2="176.93" stroke="#444" stroke-width="0.6"/>
<line x1="44.9" y1="176.93" x2="46.5" y2="176.93" stroke="#444" stroke-width="0.6"/>
<text transform="translate(16.20 191.50) scale(0.85 1)" font-size="4.2" text-anchor="end" fill="#222" stroke="#000" stroke-width="0.16">15</text>
<line x1="17.5" y1="190.00" x2="19.1" y2="190.00" stroke="#444" stroke-width="0.6"/>
<line x1="44.9" y1="190.00" x2="46.5" y2="190.00" stroke="#444" stroke-width="0.6"/>
<text transform="translate(17.50 194.60) scale(0.85 1)" font-size="4.2" text-anchor="middle" fill="#222" stroke="#000" stroke-width="0.16">0</text>
<text transform="translate(30.65 194.60) scale(0.85 1)" font-size="4.2" text-anchor="middle" fill="#222" stroke="#000" stroke-width="0.16">0.5</text>
<line x1="30.65" y1="7.5" x2="30.65" y2="9.1" stroke="#444" stroke-width="0.6"/>
<line x1="30.65" y1="188.0" x2="30.65" y2="189.7" stroke="#444" stroke-width="0.6"/>
<text transform="translate(43.80 194.60) scale(0.85 1)" font-size="4.2" text-anchor="middle" fill="#222" stroke="#000" stroke-width="0.16">1</text>
<line x1="43.80" y1="7.5" x2="43.80" y2="9.1" stroke="#444" stroke-width="0.6"/>
<line x1="43.80" y1="188.0" x2="43.80" y2="189.7" stroke="#444" stroke-width="0.6"/>
<text transform="translate(31.85 201.50)" font-size="6.9" text-anchor="middle" fill="#111" stroke="#000" stroke-width="0.18" textLength="13.1" lengthAdjust="spacingAndGlyphs">DoF</text>
<text transform="translate(5.70 98.90) rotate(90)" font-size="7.1" text-anchor="middle" fill="#111" stroke="#000" stroke-width="0.18" textLength="109" lengthAdjust="spacingAndGlyphs">Failure time series of Escalator #5</text>
<rect x="52.5" y="193.9" width="191.7" height="23.599999999999994" fill="#fff" stroke="#555" stroke-width="0.9"/>
<polyline points="52.00,217.20 59.68,216.99 67.36,215.77 75.04,215.25 82.72,215.10 90.40,214.74 98.08,214.65 105.76,214.65 113.44,214.31 121.12,213.35 128.80,211.89 136.48,211.36 144.16,210.71 151.84,207.81 159.52,207.21 167.20,205.76 174.88,204.71 182.56,204.01 190.24,203.71 197.92,202.08 205.60,201.96 213.28,199.34 220.96,199.19 228.64,197.71 236.32,196.48 244.00,196.20" fill="none" stroke="#ff6a6a" stroke-width="0.75"/>
<text transform="translate(82.72 222.30) scale(0.85 1)" font-size="4.2" text-anchor="middle" fill="#222" stroke="#000" stroke-width="0.16">5</text>
<line x1="82.72" y1="193.9" x2="82.72" y2="195.5" stroke="#444" stroke-width="0.6"/>
<line x1="82.72" y1="215.9" x2="82.72" y2="217.5" stroke="#444" stroke-width="0.6"/>
<text transform="translate(121.12 222.30) scale(0.85 1)" font-size="4.2" text-anchor="middle" fill="#222" stroke="#000" stroke-width="0.16">10</text>
<line x1="121.12" y1="193.9" x2="121.12" y2="195.5" stroke="#444" stroke-width="0.6"/>
<line x1="121.12" y1="215.9" x2="121.12" y2="217.5" stroke="#444" stroke-width="0.6"/>
<text transform="translate(159.52 222.30) scale(0.85 1)" font-size="4.2" text-anchor="middle" fill="#222" stroke="#000" stroke-width="0.16">15</text>
<line x1="159.52" y1="193.9" x2="159.52" y2="195.5" stroke="#444" stroke-width="0.6"/>
<line x1="159.52" y1="215.9" x2="159.52" y2="217.5" stroke="#444" stroke-width="0.6"/>
<text transform="translate(197.92 222.30) scale(0.85 1)" font-size="4.2" text-anchor="middle" fill="#222" stroke="#000" stroke-width="0.16">20</text>
<line x1="197.92" y1="193.9" x2="197.92" y2="195.5" stroke="#444" stroke-width="0.6"/>
<line x1="197.92" y1="215.9" x2="197.92" y2="217.5" stroke="#444" stroke-width="0.6"/>
<text transform="translate(236.32 222.30) scale(0.85 1)" font-size="4.2" text-anchor="middle" fill="#222" stroke="#000" stroke-width="0.16">25</text>
<line x1="236.32" y1="193.9" x2="236.32" y2="195.5" stroke="#444" stroke-width="0.6"/>
<line x1="236.32" y1="215.9" x2="236.32" y2="217.5" stroke="#444" stroke-width="0.6"/>
<text transform="translate(245.20 218.70) scale(0.85 1)" font-size="4.2" text-anchor="start" fill="#222" stroke="#000" stroke-width="0.16">0</text>
<line x1="52.5" y1="206.70" x2="54.1" y2="206.70" stroke="#444" stroke-width="0.6"/>
<line x1="242.6" y1="206.70" x2="244" y2="206.70" stroke="#444" stroke-width="0.6"/>
<text transform="translate(245.20 208.20) scale(0.85 1)" font-size="4.2" text-anchor="start" fill="#222" stroke="#000" stroke-width="0.16">0.5</text>
<line x1="52.5" y1="196.20" x2="54.1" y2="196.20" stroke="#444" stroke-width="0.6"/>
<line x1="242.6" y1="196.20" x2="244" y2="196.20" stroke="#444" stroke-width="0.6"/>
<text transform="translate(245.20 197.70) scale(0.85 1)" font-size="4.2" text-anchor="start" fill="#222" stroke="#000" stroke-width="0.16">1</text>
<text transform="translate(253.20 205.50) rotate(90)" font-size="6.9" text-anchor="middle" fill="#111" stroke="#000" stroke-width="0.18" textLength="12.8" lengthAdjust="spacingAndGlyphs">DoF</text>
<text transform="translate(147.75 229.20)" font-size="7.1" text-anchor="middle" fill="#111" stroke="#000" stroke-width="0.18" textLength="106.5" lengthAdjust="spacingAndGlyphs">Failure time series of Escalator #3</text>
<text x="284" y="258.20" font-size="12" style="font-family:'Liberation Serif', serif;font-weight:bold" text-anchor="middle" fill="#111">(d)</text>
<line x1="336.38" y1="20" x2="336.38" y2="208" stroke="#e4e4e4" stroke-width="0.6"/>
<text transform="translate(336.38 213.70) scale(0.82 1)" font-size="4.9" text-anchor="middle" fill="#222" stroke="#000" stroke-width="0.16">5</text>
<line x1="336.38" y1="206.7" x2="336.38" y2="208" stroke="#666" stroke-width="0.5"/>
<line x1="355.48" y1="20" x2="355.48" y2="208" stroke="#e4e4e4" stroke-width="0.6"/>
<text transform="translate(355.48 213.70) scale(0.82 1)" font-size="4.9" text-anchor="middle" fill="#222" stroke="#000" stroke-width="0.16">10</text>
<line x1="355.48" y1="206.7" x2="355.48" y2="208" stroke="#666" stroke-width="0.5"/>
<line x1="374.58" y1="20" x2="374.58" y2="208" stroke="#e4e4e4" stroke-width="0.6"/>
<text transform="translate(374.58 213.70) scale(0.82 1)" font-size="4.9" text-anchor="middle" fill="#222" stroke="#000" stroke-width="0.16">15</text>
<line x1="374.58" y1="206.7" x2="374.58" y2="208" stroke="#666" stroke-width="0.5"/>
<line x1="393.68" y1="20" x2="393.68" y2="208" stroke="#e4e4e4" stroke-width="0.6"/>
<text transform="translate(393.68 213.70) scale(0.82 1)" font-size="4.9" text-anchor="middle" fill="#222" stroke="#000" stroke-width="0.16">20</text>
<line x1="393.68" y1="206.7" x2="393.68" y2="208" stroke="#666" stroke-width="0.5"/>
<line x1="412.78" y1="20" x2="412.78" y2="208" stroke="#e4e4e4" stroke-width="0.6"/>
<text transform="translate(412.78 213.70) scale(0.82 1)" font-size="4.9" text-anchor="middle" fill="#222" stroke="#000" stroke-width="0.16">25</text>
<line x1="412.78" y1="206.7" x2="412.78" y2="208" stroke="#666" stroke-width="0.5"/>
<line x1="321.1" y1="171.00" x2="417" y2="171.00" stroke="#e4e4e4" stroke-width="0.6"/>
<text transform="translate(320.10 172.80) scale(0.8 1)" font-size="5.0" text-anchor="end" fill="#222" stroke="#000" stroke-width="0.16">500</text>
<line x1="321.1" y1="171.00" x2="322.40000000000003" y2="171.00" stroke="#666" stroke-width="0.5"/>
<line x1="321.1" y1="132.00" x2="417" y2="132.00" stroke="#e4e4e4" stroke-width="0.6"/>
<text transform="translate(320.10 133.80) scale(0.8 1)" font-size="5.0" text-anchor="end" fill="#222" stroke="#000" stroke-width="0.16">1000</text>
<line x1="321.1" y1="132.00" x2="322.40000000000003" y2="132.00" stroke="#666" stroke-width="0.5"/>
<line x1="321.1" y1="93.00" x2="417" y2="93.00" stroke="#e4e4e4" stroke-width="0.6"/>
<text transform="translate(320.10 94.80) scale(0.8 1)" font-size="5.0" text-anchor="end" fill="#222" stroke="#000" stroke-width="0.16">1500</text>
<line x1="321.1" y1="93.00" x2="322.40000000000003" y2="93.00" stroke="#666" stroke-width="0.5"/>
<line x1="321.1" y1="54.00" x2="417" y2="54.00" stroke="#e4e4e4" stroke-width="0.6"/>
<text transform="translate(320.10 55.80) scale(0.8 1)" font-size="5.0" text-anchor="end" fill="#222" stroke="#000" stroke-width="0.16">2000</text>
<line x1="321.1" y1="54.00" x2="322.40000000000003" y2="54.00" stroke="#666" stroke-width="0.5"/>
<line x1="321.1" y1="20" x2="321.1" y2="208.6" stroke="#7a7a7a" stroke-width="1.2"/>
<line x1="320.5" y1="208" x2="417" y2="208" stroke="#7a7a7a" stroke-width="1.2"/>
<polyline points="321.10,207.74 324.92,206.02 328.74,196.12 332.56,191.90 336.38,190.73 340.20,187.77 344.02,187.07 347.84,187.07 351.66,184.34 355.48,176.54 359.30,164.68 363.12,160.39 366.94,155.17 370.76,131.61 374.58,126.77 378.40,115.00 382.22,106.49 386.04,100.80 389.86,98.38 393.68,85.20 397.50,84.26 401.32,62.97 405.14,61.80 408.96,49.79 412.78,39.80 416.60,37.54" fill="none" stroke="#ff5a5a" stroke-width="0.6" stroke-dasharray="0.9,0.7"/>
<circle cx="321.10" cy="207.74" r="0.85" fill="#f01010"/>
<circle cx="324.92" cy="206.02" r="0.85" fill="#f01010"/>
<circle cx="328.74" cy="196.12" r="0.85" fill="#f01010"/>
<circle cx="332.56" cy="191.90" r="0.85" fill="#f01010"/>
<circle cx="336.38" cy="190.73" r="0.85" fill="#f01010"/>
<circle cx="340.20" cy="187.77" r="0.85" fill="#f01010"/>
<circle cx="344.02" cy="187.07" r="0.85" fill="#f01010"/>
<circle cx="347.84" cy="187.07" r="0.85" fill="#f01010"/>
<circle cx="351.66" cy="184.34" r="0.85" fill="#f01010"/>
<circle cx="355.48" cy="176.54" r="0.85" fill="#f01010"/>
<circle cx="359.30" cy="164.68" r="0.85" fill="#f01010"/>
<circle cx="363.12" cy="160.39" r="0.85" fill="#f01010"/>
<circle cx="366.94" cy="155.17" r="0.85" fill="#f01010"/>
<circle cx="370.76" cy="131.61" r="0.85" fill="#f01010"/>
<circle cx="374.58" cy="126.77" r="0.85" fill="#f01010"/>
<circle cx="378.40" cy="115.00" r="0.85" fill="#f01010"/>
<circle cx="382.22" cy="106.49" r="0.85" fill="#f01010"/>
<circle cx="386.04" cy="100.80" r="0.85" fill="#f01010"/>
<circle cx="389.86" cy="98.38" r="0.85" fill="#f01010"/>
<circle cx="393.68" cy="85.20" r="0.85" fill="#f01010"/>
<circle cx="397.50" cy="84.26" r="0.85" fill="#f01010"/>
<circle cx="401.32" cy="62.97" r="0.85" fill="#f01010"/>
<circle cx="405.14" cy="61.80" r="0.85" fill="#f01010"/>
<circle cx="408.96" cy="49.79" r="0.85" fill="#f01010"/>
<circle cx="412.78" cy="39.80" r="0.85" fill="#f01010"/>
<circle cx="416.60" cy="37.54" r="0.85" fill="#f01010"/>
<polyline points="321.10,205.63 324.92,204.93 328.74,199.24 332.56,192.61 336.38,160.39 340.20,148.54 344.02,142.45 347.84,139.10 351.66,121.39 355.48,119.83 359.30,117.41 363.12,93.00 366.94,61.80 370.76,56.81 374.58,42.69" fill="none" stroke="#5050ff" stroke-width="0.65"/>
<path d="M319.90,204.43L322.30,206.83M319.90,206.83L322.30,204.43" stroke="#1010f0" stroke-width="1.15"/>
<path d="M323.72,203.73L326.12,206.13M323.72,206.13L326.12,203.73" stroke="#1010f0" stroke-width="1.15"/>
<path d="M327.54,198.04L329.94,200.44M327.54,200.44L329.94,198.04" stroke="#1010f0" stroke-width="1.15"/>
<path d="M331.36,191.41L333.76,193.81M331.36,193.81L333.76,191.41" stroke="#1010f0" stroke-width="1.15"/>
<path d="M335.18,159.19L337.58,161.59M335.18,161.59L337.58,159.19" stroke="#1010f0" stroke-width="1.15"/>
<path d="M339.00,147.34L341.40,149.74M339.00,149.74L341.40,147.34" stroke="#1010f0" stroke-width="1.15"/>
<path d="M342.82,141.25L345.22,143.65M342.82,143.65L345.22,141.25" stroke="#1010f0" stroke-width="1.15"/>
<path d="M346.64,137.90L349.04,140.30M346.64,140.30L349.04,137.90" stroke="#1010f0" stroke-width="1.15"/>
<path d="M350.46,120.19L352.86,122.59M350.46,122.59L352.86,120.19" stroke="#1010f0" stroke-width="1.15"/>
<path d="M354.28,118.63L356.68,121.03M354.28,121.03L356.68,118.63" stroke="#1010f0" stroke-width="1.15"/>
<path d="M358.10,116.21L360.50,118.61M358.10,118.61L360.50,116.21" stroke="#1010f0" stroke-width="1.15"/>
<path d="M361.92,91.80L364.32,94.20M361.92,94.20L364.32,91.80" stroke="#1010f0" stroke-width="1.15"/>
<path d="M365.74,60.60L368.14,63.00M365.74,63.00L368.14,60.60" stroke="#1010f0" stroke-width="1.15"/>
<path d="M369.56,55.61L371.96,58.01M369.56,58.01L371.96,55.61" stroke="#1010f0" stroke-width="1.15"/>
<path d="M373.38,41.49L375.78,43.89M373.38,43.89L375.78,41.49" stroke="#1010f0" stroke-width="1.15"/>
<text transform="translate(368.75 16.60)" font-size="7.2" text-anchor="middle" fill="#111" stroke="#000" stroke-width="0.18" textLength="63.5" lengthAdjust="spacingAndGlyphs">Original Time Series</text>
<text transform="translate(368.00 222.10)" font-size="7.0" text-anchor="middle" fill="#111" stroke="#000" stroke-width="0.18" textLength="40.1" lengthAdjust="spacingAndGlyphs">Failure times</text>
<text transform="translate(304.50 113.90) rotate(90)" font-size="7.05" text-anchor="middle" fill="#111" stroke="#000" stroke-width="0.18" textLength="44.2" lengthAdjust="spacingAndGlyphs">Day of Failure</text>
<rect x="357.40" y="20.60" width="54.90" height="10.90" fill="#fff" stroke="#777" stroke-width="0.5"/>
<line x1="359.90" y1="23.50" x2="377.40" y2="23.50" stroke="#5a5aff" stroke-width="0.6"/>
<path d="M367.25,22.35L369.55,24.65M367.25,24.65L369.55,22.35" stroke="#1010f0" stroke-width="1.0"/>
<text transform="translate(378.80 24.95)" font-size="4.1" text-anchor="start" fill="#111" stroke="#000" stroke-width="0.07" textLength="31.6" lengthAdjust="spacingAndGlyphs">Original curve of #5</text>
<line x1="359.90" y1="28.20" x2="377.40" y2="28.20" stroke="#ff6a6a" stroke-width="0.55" stroke-dasharray="0.9,0.7"/>
<circle cx="368.40" cy="28.20" r="0.8" fill="#f01010"/>
<text transform="translate(378.80 29.65)" font-size="4.1" text-anchor="start" fill="#111" stroke="#000" stroke-width="0.07" textLength="31.6" lengthAdjust="spacingAndGlyphs">Original curve of #3</text>
<line x1="461.62" y1="20" x2="461.62" y2="208" stroke="#e4e4e4" stroke-width="0.6"/>
<text transform="translate(461.62 213.70) scale(0.82 1)" font-size="4.9" text-anchor="middle" fill="#222" stroke="#000" stroke-width="0.16">5</text>
<line x1="461.62" y1="206.7" x2="461.62" y2="208" stroke="#666" stroke-width="0.5"/>
<line x1="480.03" y1="20" x2="480.03" y2="208" stroke="#e4e4e4" stroke-width="0.6"/>
<text transform="translate(480.03 213.70) scale(0.82 1)" font-size="4.9" text-anchor="middle" fill="#222" stroke="#000" stroke-width="0.16">10</text>
<line x1="480.03" y1="206.7" x2="480.03" y2="208" stroke="#666" stroke-width="0.5"/>
<line x1="498.43" y1="20" x2="498.43" y2="208" stroke="#e4e4e4" stroke-width="0.6"/>
<text transform="translate(498.43 213.70) scale(0.82 1)" font-size="4.9" text-anchor="middle" fill="#222" stroke="#000" stroke-width="0.16">15</text>
<line x1="498.43" y1="206.7" x2="498.43" y2="208" stroke="#666" stroke-width="0.5"/>
<line x1="516.83" y1="20" x2="516.83" y2="208" stroke="#e4e4e4" stroke-width="0.6"/>
<text transform="translate(516.83 213.70) scale(0.82 1)" font-size="4.9" text-anchor="middle" fill="#222" stroke="#000" stroke-width="0.16">20</text>
<line x1="516.83" y1="206.7" x2="516.83" y2="208" stroke="#666" stroke-width="0.5"/>
<line x1="535.24" y1="20" x2="535.24" y2="208" stroke="#e4e4e4" stroke-width="0.6"/>
<text transform="translate(535.24 213.70) scale(0.82 1)" font-size="4.9" text-anchor="middle" fill="#222" stroke="#000" stroke-width="0.16">25</text>
<line x1="535.24" y1="206.7" x2="535.24" y2="208" stroke="#666" stroke-width="0.5"/>
<line x1="446.9" y1="171.00" x2="542.6" y2="171.00" stroke="#e4e4e4" stroke-width="0.6"/>
<text transform="translate(445.90 172.80) scale(0.8 1)" font-size="5.0" text-anchor="end" fill="#222" stroke="#000" stroke-width="0.16">500</text>
<line x1="446.9" y1="171.00" x2="448.2" y2="171.00" stroke="#666" stroke-width="0.5"/>
<line x1="446.9" y1="132.00" x2="542.6" y2="132.00" stroke="#e4e4e4" stroke-width="0.6"/>
<text transform="translate(445.90 133.80) scale(0.8 1)" font-size="5.0" text-anchor="end" fill="#222" stroke="#000" stroke-width="0.16">1000</text>
<line x1="446.9" y1="132.00" x2="448.2" y2="132.00" stroke="#666" stroke-width="0.5"/>
<line x1="446.9" y1="93.00" x2="542.6" y2="93.00" stroke="#e4e4e4" stroke-width="0.6"/>
<text transform="translate(445.90 94.80) scale(0.8 1)" font-size="5.0" text-anchor="end" fill="#222" stroke="#000" stroke-width="0.16">1500</text>
<line x1="446.9" y1="93.00" x2="448.2" y2="93.00" stroke="#666" stroke-width="0.5"/>
<line x1="446.9" y1="54.00" x2="542.6" y2="54.00" stroke="#e4e4e4" stroke-width="0.6"/>
<text transform="translate(445.90 55.80) scale(0.8 1)" font-size="5.0" text-anchor="end" fill="#222" stroke="#000" stroke-width="0.16">2000</text>
<line x1="446.9" y1="54.00" x2="448.2" y2="54.00" stroke="#666" stroke-width="0.5"/>
<line x1="446.9" y1="20" x2="446.9" y2="208.6" stroke="#7a7a7a" stroke-width="1.2"/>
<line x1="446.29999999999995" y1="208" x2="542.6" y2="208" stroke="#7a7a7a" stroke-width="1.2"/>
<polyline points="446.90,207.74 450.58,206.02 454.26,196.12 457.94,191.90 461.62,190.73 465.30,187.77 468.98,187.07 472.67,187.07 476.35,184.34 480.03,176.54 483.71,164.68 487.39,160.39 491.07,155.17 494.75,131.61 498.43,131.61 502.11,126.77 505.79,115.00 509.47,106.49 513.15,100.80 516.83,98.38 520.52,85.20 524.20,84.26 527.88,62.97 531.56,61.80 535.24,49.79 538.92,39.80 542.60,37.54" fill="none" stroke="#ff5a5a" stroke-width="0.6" stroke-dasharray="0.9,0.7"/>
<circle cx="446.90" cy="207.74" r="0.85" fill="#f01010"/>
<circle cx="450.58" cy="206.02" r="0.85" fill="#f01010"/>
<circle cx="454.26" cy="196.12" r="0.85" fill="#f01010"/>
<circle cx="457.94" cy="191.90" r="0.85" fill="#f01010"/>
<circle cx="461.62" cy="190.73" r="0.85" fill="#f01010"/>
<circle cx="465.30" cy="187.77" r="0.85" fill="#f01010"/>
<circle cx="468.98" cy="187.07" r="0.85" fill="#f01010"/>
<circle cx="472.67" cy="187.07" r="0.85" fill="#f01010"/>
<circle cx="476.35" cy="184.34" r="0.85" fill="#f01010"/>
<circle cx="480.03" cy="176.54" r="0.85" fill="#f01010"/>
<circle cx="483.71" cy="164.68" r="0.85" fill="#f01010"/>
<circle cx="487.39" cy="160.39" r="0.85" fill="#f01010"/>
<circle cx="491.07" cy="155.17" r="0.85" fill="#f01010"/>
<circle cx="494.75" cy="131.61" r="0.85" fill="#f01010"/>
<circle cx="498.43" cy="131.61" r="0.85" fill="#f01010"/>
<circle cx="502.11" cy="126.77" r="0.85" fill="#f01010"/>
<circle cx="505.79" cy="115.00" r="0.85" fill="#f01010"/>
<circle cx="509.47" cy="106.49" r="0.85" fill="#f01010"/>
<circle cx="513.15" cy="100.80" r="0.85" fill="#f01010"/>
<circle cx="516.83" cy="98.38" r="0.85" fill="#f01010"/>
<circle cx="520.52" cy="85.20" r="0.85" fill="#f01010"/>
<circle cx="524.20" cy="84.26" r="0.85" fill="#f01010"/>
<circle cx="527.88" cy="62.97" r="0.85" fill="#f01010"/>
<circle cx="531.56" cy="61.80" r="0.85" fill="#f01010"/>
<circle cx="535.24" cy="49.79" r="0.85" fill="#f01010"/>
<circle cx="538.92" cy="39.80" r="0.85" fill="#f01010"/>
<circle cx="542.60" cy="37.54" r="0.85" fill="#f01010"/>
<polyline points="446.90,205.63 450.58,204.93 454.26,199.24 457.94,192.61 461.62,192.61 465.30,192.61 468.98,192.61 472.67,192.61 476.35,192.61 480.03,160.39 483.71,160.39 487.39,160.39 491.07,148.54 494.75,142.45 498.43,139.10 502.11,121.39 505.79,119.83 509.47,117.41 513.15,93.00 516.83,93.00 520.52,93.00 524.20,93.00 527.88,61.80 531.56,61.80 535.24,56.81 538.92,42.69 542.60,42.69" fill="none" stroke="#5050ff" stroke-width="0.65"/>
<path d="M445.70,204.43L448.10,206.83M445.70,206.83L448.10,204.43" stroke="#1010f0" stroke-width="1.15"/>
<path d="M449.38,203.73L451.78,206.13M449.38,206.13L451.78,203.73" stroke="#1010f0" stroke-width="1.15"/>
<path d="M453.06,198.04L455.46,200.44M453.06,200.44L455.46,198.04" stroke="#1010f0" stroke-width="1.15"/>
<path d="M456.74,191.41L459.14,193.81M456.74,193.81L459.14,191.41" stroke="#1010f0" stroke-width="1.15"/>
<path d="M460.42,191.41L462.82,193.81M460.42,193.81L462.82,191.41" stroke="#1010f0" stroke-width="1.15"/>
<path d="M464.10,191.41L466.50,193.81M464.10,193.81L466.50,191.41" stroke="#1010f0" stroke-width="1.15"/>
<path d="M467.78,191.41L470.18,193.81M467.78,193.81L470.18,191.41" stroke="#1010f0" stroke-width="1.15"/>
<path d="M471.47,191.41L473.87,193.81M471.47,193.81L473.87,191.41" stroke="#1010f0" stroke-width="1.15"/>
<path d="M475.15,191.41L477.55,193.81M475.15,193.81L477.55,191.41" stroke="#1010f0" stroke-width="1.15"/>
<path d="M478.83,159.19L481.23,161.59M478.83,161.59L481.23,159.19" stroke="#1010f0" stroke-width="1.15"/>
<path d="M482.51,159.19L484.91,161.59M482.51,161.59L484.91,159.19" stroke="#1010f0" stroke-width="1.15"/>
<path d="M486.19,159.19L488.59,161.59M486.19,161.59L488.59,159.19" stroke="#1010f0" stroke-width="1.15"/>
<path d="M489.87,147.34L492.27,149.74M489.87,149.74L492.27,147.34" stroke="#1010f0" stroke-width="1.15"/>
<path d="M493.55,141.25L495.95,143.65M493.55,143.65L495.95,141.25" stroke="#1010f0" stroke-width="1.15"/>
<path d="M497.23,137.90L499.63,140.30M497.23,140.30L499.63,137.90" stroke="#1010f0" stroke-width="1.15"/>
<path d="M500.91,120.19L503.31,122.59M500.91,122.59L503.31,120.19" stroke="#1010f0" stroke-width="1.15"/>
<path d="M504.59,118.63L506.99,121.03M504.59,121.03L506.99,118.63" stroke="#1010f0" stroke-width="1.15"/>
<path d="M508.27,116.21L510.67,118.61M508.27,118.61L510.67,116.21" stroke="#1010f0" stroke-width="1.15"/>
<path d="M511.95,91.80L514.35,94.20M511.95,94.20L514.35,91.80" stroke="#1010f0" stroke-width="1.15"/>
<path d="M515.63,91.80L518.03,94.20M515.63,94.20L518.03,91.80" stroke="#1010f0" stroke-width="1.15"/>
<path d="M519.32,91.80L521.72,94.20M519.32,94.20L521.72,91.80" stroke="#1010f0" stroke-width="1.15"/>
<path d="M523.00,91.80L525.40,94.20M523.00,94.20L525.40,91.80" stroke="#1010f0" stroke-width="1.15"/>
<path d="M526.68,60.60L529.08,63.00M526.68,63.00L529.08,60.60" stroke="#1010f0" stroke-width="1.15"/>
<path d="M530.36,60.60L532.76,63.00M530.36,63.00L532.76,60.60" stroke="#1010f0" stroke-width="1.15"/>
<path d="M534.04,55.61L536.44,58.01M534.04,58.01L536.44,55.61" stroke="#1010f0" stroke-width="1.15"/>
<path d="M537.72,41.49L540.12,43.89M537.72,43.89L540.12,41.49" stroke="#1010f0" stroke-width="1.15"/>
<path d="M541.40,41.49L543.80,43.89M541.40,43.89L543.80,41.49" stroke="#1010f0" stroke-width="1.15"/>
<text transform="translate(494.45 16.60)" font-size="7.2" text-anchor="middle" fill="#111" stroke="#000" stroke-width="0.18" textLength="63.5" lengthAdjust="spacingAndGlyphs">Warped Time Series</text>
<text transform="translate(495.00 222.10)" font-size="7.0" text-anchor="middle" fill="#111" stroke="#000" stroke-width="0.18" textLength="40.1" lengthAdjust="spacingAndGlyphs">Failure times</text>
<text transform="translate(430.30 113.90) rotate(90)" font-size="7.05" text-anchor="middle" fill="#111" stroke="#000" stroke-width="0.18" textLength="44.2" lengthAdjust="spacingAndGlyphs">Day of Failure</text>
<rect x="483.00" y="20.60" width="54.90" height="10.90" fill="#fff" stroke="#777" stroke-width="0.5"/>
<line x1="485.50" y1="23.50" x2="503.00" y2="23.50" stroke="#5a5aff" stroke-width="0.6"/>
<path d="M492.85,22.35L495.15,24.65M492.85,24.65L495.15,22.35" stroke="#1010f0" stroke-width="1.0"/>
<text transform="translate(504.40 24.95)" font-size="4.1" text-anchor="start" fill="#111" stroke="#000" stroke-width="0.07" textLength="32.5" lengthAdjust="spacingAndGlyphs">Warped curve of #5</text>
<line x1="485.50" y1="28.20" x2="503.00" y2="28.20" stroke="#ff6a6a" stroke-width="0.55" stroke-dasharray="0.9,0.7"/>
<circle cx="494.00" cy="28.20" r="0.8" fill="#f01010"/>
<text transform="translate(504.40 29.65)" font-size="4.1" text-anchor="start" fill="#111" stroke="#000" stroke-width="0.07" textLength="32.5" lengthAdjust="spacingAndGlyphs">Warped curve of #3</text>
<g shape-rendering="crispEdges">
<rect x="52.00" y="275.50" width="7.98" height="12.80" fill="#080808"/>
<rect x="59.38" y="275.50" width="7.98" height="12.80" fill="#080808"/>
<rect x="66.77" y="275.50" width="7.98" height="12.80" fill="#080808"/>
<rect x="74.15" y="275.50" width="7.98" height="12.80" fill="#080808"/>
<rect x="81.54" y="275.50" width="7.98" height="12.80" fill="#080808"/>
<rect x="88.92" y="275.50" width="7.98" height="12.80" fill="#080808"/>
<rect x="96.31" y="275.50" width="7.98" height="12.80" fill="#080808"/>
<rect x="103.69" y="275.50" width="7.98" height="12.80" fill="#080808"/>
<rect x="111.08" y="275.50" width="7.98" height="12.80" fill="#080808"/>
<rect x="118.46" y="275.50" width="7.98" height="12.80" fill="#080808"/>
<rect x="125.85" y="275.50" width="7.98" height="12.80" fill="#080808"/>
<rect x="133.23" y="275.50" width="7.98" height="12.80" fill="#080808"/>
<rect x="140.62" y="275.50" width="7.98" height="12.80" fill="#080808"/>
<rect x="148.00" y="275.50" width="7.98" height="12.80" fill="#262626"/>
<rect x="155.38" y="275.50" width="7.98" height="12.80" fill="#262626"/>
<rect x="162.77" y="275.50" width="7.98" height="12.80" fill="#383838"/>
<rect x="170.15" y="275.50" width="7.98" height="12.80" fill="#383838"/>
<rect x="177.54" y="275.50" width="7.98" height="12.80" fill="#404040"/>
<rect x="184.92" y="275.50" width="7.98" height="12.80" fill="#545454"/>
<rect x="192.31" y="275.50" width="7.98" height="12.80" fill="#5e5e5e"/>
<rect x="199.69" y="275.50" width="7.98" height="12.80" fill="#6b6b6b"/>
<rect x="207.08" y="275.50" width="7.98" height="12.80" fill="#737373"/>
<rect x="214.46" y="275.50" width="7.98" height="12.80" fill="#808080"/>
<rect x="221.85" y="275.50" width="7.98" height="12.80" fill="#858585"/>
<rect x="229.23" y="275.50" width="7.98" height="12.80" fill="#8c8c8c"/>
<rect x="236.62" y="275.50" width="7.38" height="12.80" fill="#919191"/>
<rect x="52.00" y="287.70" width="7.98" height="12.80" fill="#080808"/>
<rect x="59.38" y="287.70" width="7.98" height="12.80" fill="#080808"/>
<rect x="66.77" y="287.70" width="7.98" height="12.80" fill="#080808"/>
<rect x="74.15" y="287.70" width="7.98" height="12.80" fill="#080808"/>
<rect x="81.54" y="287.70" width="7.98" height="12.80" fill="#080808"/>
<rect x="88.92" y="287.70" width="7.98" height="12.80" fill="#080808"/>
<rect x="96.31" y="287.70" width="7.98" height="12.80" fill="#080808"/>
<rect x="103.69" y="287.70" width="7.98" height="12.80" fill="#080808"/>
<rect x="111.08" y="287.70" width="7.98" height="12.80" fill="#080808"/>
<rect x="118.46" y="287.70" width="7.98" height="12.80" fill="#080808"/>
<rect x="125.85" y="287.70" width="7.98" height="12.80" fill="#080808"/>
<rect x="133.23" y="287.70" width="7.98" height="12.80" fill="#080808"/>
<rect x="140.62" y="287.70" width="7.98" height="12.80" fill="#080808"/>
<rect x="148.00" y="287.70" width="7.98" height="12.80" fill="#080808"/>
<rect x="155.38" y="287.70" width="7.98" height="12.80" fill="#1f1f1f"/>
<rect x="162.77" y="287.70" width="7.98" height="12.80" fill="#1f1f1f"/>
<rect x="170.15" y="287.70" width="7.98" height="12.80" fill="#333333"/>
<rect x="177.54" y="287.70" width="7.98" height="12.80" fill="#404040"/>
<rect x="184.92" y="287.70" width="7.98" height="12.80" fill="#474747"/>
<rect x="192.31" y="287.70" width="7.98" height="12.80" fill="#5c5c5c"/>
<rect x="199.69" y="287.70" width="7.98" height="12.80" fill="#616161"/>
<rect x="207.08" y="287.70" width="7.98" height="12.80" fill="#6b6b6b"/>
<rect x="214.46" y="287.70" width="7.98" height="12.80" fill="#737373"/>
<rect x="221.85" y="287.70" width="7.98" height="12.80" fill="#7a7a7a"/>
<rect x="229.23" y="287.70" width="7.98" height="12.80" fill="#808080"/>
<rect x="236.62" y="287.70" width="7.38" height="12.80" fill="#858585"/>
<rect x="52.00" y="299.90" width="7.98" height="12.80" fill="#080808"/>
<rect x="59.38" y="299.90" width="7.98" height="12.80" fill="#080808"/>
<rect x="66.77" y="299.90" width="7.98" height="12.80" fill="#080808"/>
<rect x="74.15" y="299.90" width="7.98" height="12.80" fill="#080808"/>
<rect x="81.54" y="299.90" width="7.98" height="12.80" fill="#080808"/>
<rect x="88.92" y="299.90" width="7.98" height="12.80" fill="#080808"/>
<rect x="96.31" y="299.90" width="7.98" height="12.80" fill="#080808"/>
<rect x="103.69" y="299.90" width="7.98" height="12.80" fill="#080808"/>
<rect x="111.08" y="299.90" width="7.98" height="12.80" fill="#080808"/>
<rect x="118.46" y="299.90" width="7.98" height="12.80" fill="#080808"/>
<rect x="125.85" y="299.90" width="7.98" height="12.80" fill="#080808"/>
<rect x="133.23" y="299.90" width="7.98" height="12.80" fill="#080808"/>
<rect x="140.62" y="299.90" width="7.98" height="12.80" fill="#080808"/>
<rect x="148.00" y="299.90" width="7.98" height="12.80" fill="#080808"/>
<rect x="155.38" y="299.90" width="7.98" height="12.80" fill="#080808"/>
<rect x="162.77" y="299.90" width="7.98" height="12.80" fill="#0d0d0d"/>
<rect x="170.15" y="299.90" width="7.98" height="12.80" fill="#1a1a1a"/>
<rect x="177.54" y="299.90" width="7.98" height="12.80" fill="#1f1f1f"/>
<rect x="184.92" y="299.90" width="7.98" height="12.80" fill="#303030"/>
<rect x="192.31" y="299.90" width="7.98" height="12.80" fill="#333333"/>
<rect x="199.69" y="299.90" width="7.98" height="12.80" fill="#404040"/>
<rect x="207.08" y="299.90" width="7.98" height="12.80" fill="#545454"/>
<rect x="214.46" y="299.90" width="7.98" height="12.80" fill="#5e5e5e"/>
<rect x="221.85" y="299.90" width="7.98" height="12.80" fill="#666666"/>
<rect x="229.23" y="299.90" width="7.98" height="12.80" fill="#6e6e6e"/>
<rect x="236.62" y="299.90" width="7.38" height="12.80" fill="#737373"/>
<rect x="52.00" y="312.10" width="7.98" height="12.80" fill="#080808"/>
<rect x="59.38" y="312.10" width="7.98" height="12.80" fill="#080808"/>
<rect x="66.77" y="312.10" width="7.98" height="12.80" fill="#080808"/>
<rect x="74.15" y="312.10" width="7.98" height="12.80" fill="#080808"/>
<rect x="81.54" y="312.10" width="7.98" height="12.80" fill="#080808"/>
<rect x="88.92" y="312.10" width="7.98" height="12.80" fill="#080808"/>
<rect x="96.31" y="312.10" width="7.98" height="12.80" fill="#080808"/>
<rect x="103.69" y="312.10" width="7.98" height="12.80" fill="#080808"/>
<rect x="111.08" y="312.10" width="7.98" height="12.80" fill="#080808"/>
<rect x="118.46" y="312.10" width="7.98" height="12.80" fill="#080808"/>
<rect x="125.85" y="312.10" width="7.98" height="12.80" fill="#080808"/>
<rect x="133.23" y="312.10" width="7.98" height="12.80" fill="#080808"/>
<rect x="140.62" y="312.10" width="7.98" height="12.80" fill="#080808"/>
<rect x="148.00" y="312.10" width="7.98" height="12.80" fill="#080808"/>
<rect x="155.38" y="312.10" width="7.98" height="12.80" fill="#080808"/>
<rect x="162.77" y="312.10" width="7.98" height="12.80" fill="#080808"/>
<rect x="170.15" y="312.10" width="7.98" height="12.80" fill="#080808"/>
<rect x="177.54" y="312.10" width="7.98" height="12.80" fill="#1a1a1a"/>
<rect x="184.92" y="312.10" width="7.98" height="12.80" fill="#212121"/>
<rect x="192.31" y="312.10" width="7.98" height="12.80" fill="#262626"/>
<rect x="199.69" y="312.10" width="7.98" height="12.80" fill="#333333"/>
<rect x="207.08" y="312.10" width="7.98" height="12.80" fill="#454545"/>
<rect x="214.46" y="312.10" width="7.98" height="12.80" fill="#4c4c4c"/>
<rect x="221.85" y="312.10" width="7.98" height="12.80" fill="#525252"/>
<rect x="229.23" y="312.10" width="7.98" height="12.80" fill="#5e5e5e"/>
<rect x="236.62" y="312.10" width="7.38" height="12.80" fill="#616161"/>
<rect x="52.00" y="324.30" width="7.98" height="12.80" fill="#080808"/>
<rect x="59.38" y="324.30" width="7.98" height="12.80" fill="#080808"/>
<rect x="66.77" y="324.30" width="7.98" height="12.80" fill="#080808"/>
<rect x="74.15" y="324.30" width="7.98" height="12.80" fill="#080808"/>
<rect x="81.54" y="324.30" width="7.98" height="12.80" fill="#080808"/>
<rect x="88.92" y="324.30" width="7.98" height="12.80" fill="#080808"/>
<rect x="96.31" y="324.30" width="7.98" height="12.80" fill="#080808"/>
<rect x="103.69" y="324.30" width="7.98" height="12.80" fill="#080808"/>
<rect x="111.08" y="324.30" width="7.98" height="12.80" fill="#080808"/>
<rect x="118.46" y="324.30" width="7.98" height="12.80" fill="#080808"/>
<rect x="125.85" y="324.30" width="7.98" height="12.80" fill="#080808"/>
<rect x="133.23" y="324.30" width="7.98" height="12.80" fill="#080808"/>
<rect x="140.62" y="324.30" width="7.98" height="12.80" fill="#080808"/>
<rect x="148.00" y="324.30" width="7.98" height="12.80" fill="#080808"/>
<rect x="155.38" y="324.30" width="7.98" height="12.80" fill="#080808"/>
<rect x="162.77" y="324.30" width="7.98" height="12.80" fill="#080808"/>
<rect x="170.15" y="324.30" width="7.98" height="12.80" fill="#080808"/>
<rect x="177.54" y="324.30" width="7.98" height="12.80" fill="#080808"/>
<rect x="184.92" y="324.30" width="7.98" height="12.80" fill="#1f1f1f"/>
<rect x="192.31" y="324.30" width="7.98" height="12.80" fill="#212121"/>
<rect x="199.69" y="324.30" width="7.98" height="12.80" fill="#262626"/>
<rect x="207.08" y="324.30" width="7.98" height="12.80" fill="#383838"/>
<rect x="214.46" y="324.30" width="7.98" height="12.80" fill="#404040"/>
<rect x="221.85" y="324.30" width="7.98" height="12.80" fill="#424242"/>
<rect x="229.23" y="324.30" width="7.98" height="12.80" fill="#4c4c4c"/>
<rect x="236.62" y="324.30" width="7.38" height="12.80" fill="#595959"/>
<rect x="52.00" y="336.50" width="7.98" height="12.80" fill="#080808"/>
<rect x="59.38" y="336.50" width="7.98" height="12.80" fill="#080808"/>
<rect x="66.77" y="336.50" width="7.98" height="12.80" fill="#080808"/>
<rect x="74.15" y="336.50" width="7.98" height="12.80" fill="#080808"/>
<rect x="81.54" y="336.50" width="7.98" height="12.80" fill="#080808"/>
<rect x="88.92" y="336.50" width="7.98" height="12.80" fill="#080808"/>
<rect x="96.31" y="336.50" width="7.98" height="12.80" fill="#080808"/>
<rect x="103.69" y="336.50" width="7.98" height="12.80" fill="#080808"/>
<rect x="111.08" y="336.50" width="7.98" height="12.80" fill="#080808"/>
<rect x="118.46" y="336.50" width="7.98" height="12.80" fill="#080808"/>
<rect x="125.85" y="336.50" width="7.98" height="12.80" fill="#080808"/>
<rect x="133.23" y="336.50" width="7.98" height="12.80" fill="#080808"/>
<rect x="140.62" y="336.50" width="7.98" height="12.80" fill="#080808"/>
<rect x="148.00" y="336.50" width="7.98" height="12.80" fill="#080808"/>
<rect x="155.38" y="336.50" width="7.98" height="12.80" fill="#080808"/>
<rect x="162.77" y="336.50" width="7.98" height="12.80" fill="#080808"/>
<rect x="170.15" y="336.50" width="7.98" height="12.80" fill="#080808"/>
<rect x="177.54" y="336.50" width="7.98" height="12.80" fill="#080808"/>
<rect x="184.92" y="336.50" width="7.98" height="12.80" fill="#080808"/>
<rect x="192.31" y="336.50" width="7.98" height="12.80" fill="#080808"/>
<rect x="199.69" y="336.50" width="7.98" height="12.80" fill="#1a1a1a"/>
<rect x="207.08" y="336.50" width="7.98" height="12.80" fill="#1f1f1f"/>
<rect x="214.46" y="336.50" width="7.98" height="12.80" fill="#2e2e2e"/>
<rect x="221.85" y="336.50" width="7.98" height="12.80" fill="#333333"/>
<rect x="229.23" y="336.50" width="7.98" height="12.80" fill="#3b3b3b"/>
<rect x="236.62" y="336.50" width="7.38" height="12.80" fill="#474747"/>
<rect x="52.00" y="348.70" width="7.98" height="12.80" fill="#080808"/>
<rect x="59.38" y="348.70" width="7.98" height="12.80" fill="#080808"/>
<rect x="66.77" y="348.70" width="7.98" height="12.80" fill="#080808"/>
<rect x="74.15" y="348.70" width="7.98" height="12.80" fill="#080808"/>
<rect x="81.54" y="348.70" width="7.98" height="12.80" fill="#080808"/>
<rect x="88.92" y="348.70" width="7.98" height="12.80" fill="#080808"/>
<rect x="96.31" y="348.70" width="7.98" height="12.80" fill="#080808"/>
<rect x="103.69" y="348.70" width="7.98" height="12.80" fill="#080808"/>
<rect x="111.08" y="348.70" width="7.98" height="12.80" fill="#080808"/>
<rect x="118.46" y="348.70" width="7.98" height="12.80" fill="#080808"/>
<rect x="125.85" y="348.70" width="7.98" height="12.80" fill="#080808"/>
<rect x="133.23" y="348.70" width="7.98" height="12.80" fill="#080808"/>
<rect x="140.62" y="348.70" width="7.98" height="12.80" fill="#080808"/>
<rect x="148.00" y="348.70" width="7.98" height="12.80" fill="#080808"/>
<rect x="155.38" y="348.70" width="7.98" height="12.80" fill="#080808"/>
<rect x="162.77" y="348.70" width="7.98" height="12.80" fill="#080808"/>
<rect x="170.15" y="348.70" width="7.98" height="12.80" fill="#080808"/>
<rect x="177.54" y="348.70" width="7.98" height="12.80" fill="#080808"/>
<rect x="184.92" y="348.70" width="7.98" height="12.80" fill="#080808"/>
<rect x="192.31" y="348.70" width="7.98" height="12.80" fill="#080808"/>
<rect x="199.69" y="348.70" width="7.98" height="12.80" fill="#080808"/>
<rect x="207.08" y="348.70" width="7.98" height="12.80" fill="#1a1a1a"/>
<rect x="214.46" y="348.70" width="7.98" height="12.80" fill="#1c1c1c"/>
<rect x="221.85" y="348.70" width="7.98" height="12.80" fill="#262626"/>
<rect x="229.23" y="348.70" width="7.98" height="12.80" fill="#333333"/>
<rect x="236.62" y="348.70" width="7.38" height="12.80" fill="#383838"/>
<rect x="52.00" y="360.90" width="7.98" height="12.80" fill="#080808"/>
<rect x="59.38" y="360.90" width="7.98" height="12.80" fill="#080808"/>
<rect x="66.77" y="360.90" width="7.98" height="12.80" fill="#080808"/>
<rect x="74.15" y="360.90" width="7.98" height="12.80" fill="#080808"/>
<rect x="81.54" y="360.90" width="7.98" height="12.80" fill="#080808"/>
<rect x="88.92" y="360.90" width="7.98" height="12.80" fill="#080808"/>
<rect x="96.31" y="360.90" width="7.98" height="12.80" fill="#080808"/>
<rect x="103.69" y="360.90" width="7.98" height="12.80" fill="#080808"/>
<rect x="111.08" y="360.90" width="7.98" height="12.80" fill="#080808"/>
<rect x="118.46" y="360.90" width="7.98" height="12.80" fill="#080808"/>
<rect x="125.85" y="360.90" width="7.98" height="12.80" fill="#080808"/>
<rect x="133.23" y="360.90" width="7.98" height="12.80" fill="#080808"/>
<rect x="140.62" y="360.90" width="7.98" height="12.80" fill="#080808"/>
<rect x="148.00" y="360.90" width="7.98" height="12.80" fill="#080808"/>
<rect x="155.38" y="360.90" width="7.98" height="12.80" fill="#080808"/>
<rect x="162.77" y="360.90" width="7.98" height="12.80" fill="#080808"/>
<rect x="170.15" y="360.90" width="7.98" height="12.80" fill="#080808"/>
<rect x="177.54" y="360.90" width="7.98" height="12.80" fill="#080808"/>
<rect x="184.92" y="360.90" width="7.98" height="12.80" fill="#080808"/>
<rect x="192.31" y="360.90" width="7.98" height="12.80" fill="#080808"/>
<rect x="199.69" y="360.90" width="7.98" height="12.80" fill="#080808"/>
<rect x="207.08" y="360.90" width="7.98" height="12.80" fill="#0d0d0d"/>
<rect x="214.46" y="360.90" width="7.98" height="12.80" fill="#141414"/>
<rect x="221.85" y="360.90" width="7.98" height="12.80" fill="#1a1a1a"/>
<rect x="229.23" y="360.90" width="7.98" height="12.80" fill="#262626"/>
<rect x="236.62" y="360.90" width="7.38" height="12.80" fill="#2b2b2b"/>
<rect x="52.00" y="373.10" width="7.98" height="12.80" fill="#1c1c1c"/>
<rect x="59.38" y="373.10" width="7.98" height="12.80" fill="#1c1c1c"/>
<rect x="66.77" y="373.10" width="7.98" height="12.80" fill="#080808"/>
<rect x="74.15" y="373.10" width="7.98" height="12.80" fill="#080808"/>
<rect x="81.54" y="373.10" width="7.98" height="12.80" fill="#080808"/>
<rect x="88.92" y="373.10" width="7.98" height="12.80" fill="#080808"/>
<rect x="96.31" y="373.10" width="7.98" height="12.80" fill="#080808"/>
<rect x="103.69" y="373.10" width="7.98" height="12.80" fill="#080808"/>
<rect x="111.08" y="373.10" width="7.98" height="12.80" fill="#080808"/>
<rect x="118.46" y="373.10" width="7.98" height="12.80" fill="#080808"/>
<rect x="125.85" y="373.10" width="7.98" height="12.80" fill="#080808"/>
<rect x="133.23" y="373.10" width="7.98" height="12.80" fill="#080808"/>
<rect x="140.62" y="373.10" width="7.98" height="12.80" fill="#080808"/>
<rect x="148.00" y="373.10" width="7.98" height="12.80" fill="#080808"/>
<rect x="155.38" y="373.10" width="7.98" height="12.80" fill="#080808"/>
<rect x="162.77" y="373.10" width="7.98" height="12.80" fill="#080808"/>
<rect x="170.15" y="373.10" width="7.98" height="12.80" fill="#080808"/>
<rect x="177.54" y="373.10" width="7.98" height="12.80" fill="#080808"/>
<rect x="184.92" y="373.10" width="7.98" height="12.80" fill="#080808"/>
<rect x="192.31" y="373.10" width="7.98" height="12.80" fill="#080808"/>
<rect x="199.69" y="373.10" width="7.98" height="12.80" fill="#080808"/>
<rect x="207.08" y="373.10" width="7.98" height="12.80" fill="#080808"/>
<rect x="214.46" y="373.10" width="7.98" height="12.80" fill="#080808"/>
<rect x="221.85" y="373.10" width="7.98" height="12.80" fill="#080808"/>
<rect x="229.23" y="373.10" width="7.98" height="12.80" fill="#0d0d0d"/>
<rect x="236.62" y="373.10" width="7.38" height="12.80" fill="#121212"/>
<rect x="52.00" y="385.30" width="7.98" height="12.80" fill="#212121"/>
<rect x="59.38" y="385.30" width="7.98" height="12.80" fill="#212121"/>
<rect x="66.77" y="385.30" width="7.98" height="12.80" fill="#141414"/>
<rect x="74.15" y="385.30" width="7.98" height="12.80" fill="#141414"/>
<rect x="81.54" y="385.30" width="7.98" height="12.80" fill="#141414"/>
<rect x="88.92" y="385.30" width="7.98" height="12.80" fill="#141414"/>
<rect x="96.31" y="385.30" width="7.98" height="12.80" fill="#141414"/>
<rect x="103.69" y="385.30" width="7.98" height="12.80" fill="#141414"/>
<rect x="111.08" y="385.30" width="7.98" height="12.80" fill="#141414"/>
<rect x="118.46" y="385.30" width="7.98" height="12.80" fill="#080808"/>
<rect x="125.85" y="385.30" width="7.98" height="12.80" fill="#080808"/>
<rect x="133.23" y="385.30" width="7.98" height="12.80" fill="#080808"/>
<rect x="140.62" y="385.30" width="7.98" height="12.80" fill="#080808"/>
<rect x="148.00" y="385.30" width="7.98" height="12.80" fill="#080808"/>
<rect x="155.38" y="385.30" width="7.98" height="12.80" fill="#080808"/>
<rect x="162.77" y="385.30" width="7.98" height="12.80" fill="#080808"/>
<rect x="170.15" y="385.30" width="7.98" height="12.80" fill="#080808"/>
<rect x="177.54" y="385.30" width="7.98" height="12.80" fill="#080808"/>
<rect x="184.92" y="385.30" width="7.98" height="12.80" fill="#080808"/>
<rect x="192.31" y="385.30" width="7.98" height="12.80" fill="#080808"/>
<rect x="199.69" y="385.30" width="7.98" height="12.80" fill="#080808"/>
<rect x="207.08" y="385.30" width="7.98" height="12.80" fill="#080808"/>
<rect x="214.46" y="385.30" width="7.98" height="12.80" fill="#080808"/>
<rect x="221.85" y="385.30" width="7.98" height="12.80" fill="#080808"/>
<rect x="229.23" y="385.30" width="7.98" height="12.80" fill="#080808"/>
<rect x="236.62" y="385.30" width="7.38" height="12.80" fill="#121212"/>
<rect x="52.00" y="397.50" width="7.98" height="12.80" fill="#2e2e2e"/>
<rect x="59.38" y="397.50" width="7.98" height="12.80" fill="#2e2e2e"/>
<rect x="66.77" y="397.50" width="7.98" height="12.80" fill="#2e2e2e"/>
<rect x="74.15" y="397.50" width="7.98" height="12.80" fill="#1a1a1a"/>
<rect x="81.54" y="397.50" width="7.98" height="12.80" fill="#1a1a1a"/>
<rect x="88.92" y="397.50" width="7.98" height="12.80" fill="#1a1a1a"/>
<rect x="96.31" y="397.50" width="7.98" height="12.80" fill="#1a1a1a"/>
<rect x="103.69" y="397.50" width="7.98" height="12.80" fill="#1a1a1a"/>
<rect x="111.08" y="397.50" width="7.98" height="12.80" fill="#1a1a1a"/>
<rect x="118.46" y="397.50" width="7.98" height="12.80" fill="#171717"/>
<rect x="125.85" y="397.50" width="7.98" height="12.80" fill="#080808"/>
<rect x="133.23" y="397.50" width="7.98" height="12.80" fill="#080808"/>
<rect x="140.62" y="397.50" width="7.98" height="12.80" fill="#080808"/>
<rect x="148.00" y="397.50" width="7.98" height="12.80" fill="#080808"/>
<rect x="155.38" y="397.50" width="7.98" height="12.80" fill="#080808"/>
<rect x="162.77" y="397.50" width="7.98" height="12.80" fill="#080808"/>
<rect x="170.15" y="397.50" width="7.98" height="12.80" fill="#080808"/>
<rect x="177.54" y="397.50" width="7.98" height="12.80" fill="#080808"/>
<rect x="184.92" y="397.50" width="7.98" height="12.80" fill="#080808"/>
<rect x="192.31" y="397.50" width="7.98" height="12.80" fill="#080808"/>
<rect x="199.69" y="397.50" width="7.98" height="12.80" fill="#080808"/>
<rect x="207.08" y="397.50" width="7.98" height="12.80" fill="#080808"/>
<rect x="214.46" y="397.50" width="7.98" height="12.80" fill="#080808"/>
<rect x="221.85" y="397.50" width="7.98" height="12.80" fill="#080808"/>
<rect x="229.23" y="397.50" width="7.98" height="12.80" fill="#080808"/>
<rect x="236.62" y="397.50" width="7.38" height="12.80" fill="#080808"/>
<rect x="52.00" y="409.70" width="7.98" height="12.80" fill="#3b3b3b"/>
<rect x="59.38" y="409.70" width="7.98" height="12.80" fill="#3b3b3b"/>
<rect x="66.77" y="409.70" width="7.98" height="12.80" fill="#2b2b2b"/>
<rect x="74.15" y="409.70" width="7.98" height="12.80" fill="#2b2b2b"/>
<rect x="81.54" y="409.70" width="7.98" height="12.80" fill="#2b2b2b"/>
<rect x="88.92" y="409.70" width="7.98" height="12.80" fill="#2b2b2b"/>
<rect x="96.31" y="409.70" width="7.98" height="12.80" fill="#2b2b2b"/>
<rect x="103.69" y="409.70" width="7.98" height="12.80" fill="#2b2b2b"/>
<rect x="111.08" y="409.70" width="7.98" height="12.80" fill="#2b2b2b"/>
<rect x="118.46" y="409.70" width="7.98" height="12.80" fill="#2b2b2b"/>
<rect x="125.85" y="409.70" width="7.98" height="12.80" fill="#1f1f1f"/>
<rect x="133.23" y="409.70" width="7.98" height="12.80" fill="#1f1f1f"/>
<rect x="140.62" y="409.70" width="7.98" height="12.80" fill="#1f1f1f"/>
<rect x="148.00" y="409.70" width="7.98" height="12.80" fill="#080808"/>
<rect x="155.38" y="409.70" width="7.98" height="12.80" fill="#080808"/>
<rect x="162.77" y="409.70" width="7.98" height="12.80" fill="#080808"/>
<rect x="170.15" y="409.70" width="7.98" height="12.80" fill="#080808"/>
<rect x="177.54" y="409.70" width="7.98" height="12.80" fill="#080808"/>
<rect x="184.92" y="409.70" width="7.98" height="12.80" fill="#080808"/>
<rect x="192.31" y="409.70" width="7.98" height="12.80" fill="#080808"/>
<rect x="199.69" y="409.70" width="7.98" height="12.80" fill="#080808"/>
<rect x="207.08" y="409.70" width="7.98" height="12.80" fill="#080808"/>
<rect x="214.46" y="409.70" width="7.98" height="12.80" fill="#080808"/>
<rect x="221.85" y="409.70" width="7.98" height="12.80" fill="#080808"/>
<rect x="229.23" y="409.70" width="7.98" height="12.80" fill="#080808"/>
<rect x="236.62" y="409.70" width="7.38" height="12.80" fill="#080808"/>
<rect x="52.00" y="421.90" width="7.98" height="12.80" fill="#474747"/>
<rect x="59.38" y="421.90" width="7.98" height="12.80" fill="#474747"/>
<rect x="66.77" y="421.90" width="7.98" height="12.80" fill="#383838"/>
<rect x="74.15" y="421.90" width="7.98" height="12.80" fill="#383838"/>
<rect x="81.54" y="421.90" width="7.98" height="12.80" fill="#383838"/>
<rect x="88.92" y="421.90" width="7.98" height="12.80" fill="#383838"/>
<rect x="96.31" y="421.90" width="7.98" height="12.80" fill="#383838"/>
<rect x="103.69" y="421.90" width="7.98" height="12.80" fill="#383838"/>
<rect x="111.08" y="421.90" width="7.98" height="12.80" fill="#383838"/>
<rect x="118.46" y="421.90" width="7.98" height="12.80" fill="#292929"/>
<rect x="125.85" y="421.90" width="7.98" height="12.80" fill="#292929"/>
<rect x="133.23" y="421.90" width="7.98" height="12.80" fill="#1a1a1a"/>
<rect x="140.62" y="421.90" width="7.98" height="12.80" fill="#1a1a1a"/>
<rect x="148.00" y="421.90" width="7.98" height="12.80" fill="#0d0d0d"/>
<rect x="155.38" y="421.90" width="7.98" height="12.80" fill="#080808"/>
<rect x="162.77" y="421.90" width="7.98" height="12.80" fill="#080808"/>
<rect x="170.15" y="421.90" width="7.98" height="12.80" fill="#080808"/>
<rect x="177.54" y="421.90" width="7.98" height="12.80" fill="#080808"/>
<rect x="184.92" y="421.90" width="7.98" height="12.80" fill="#080808"/>
<rect x="192.31" y="421.90" width="7.98" height="12.80" fill="#080808"/>
<rect x="199.69" y="421.90" width="7.98" height="12.80" fill="#080808"/>
<rect x="207.08" y="421.90" width="7.98" height="12.80" fill="#080808"/>
<rect x="214.46" y="421.90" width="7.98" height="12.80" fill="#080808"/>
<rect x="221.85" y="421.90" width="7.98" height="12.80" fill="#080808"/>
<rect x="229.23" y="421.90" width="7.98" height="12.80" fill="#080808"/>
<rect x="236.62" y="421.90" width="7.38" height="12.80" fill="#080808"/>
<rect x="52.00" y="434.10" width="7.98" height="12.80" fill="#4f4f4f"/>
<rect x="59.38" y="434.10" width="7.98" height="12.80" fill="#4f4f4f"/>
<rect x="66.77" y="434.10" width="7.98" height="12.80" fill="#454545"/>
<rect x="74.15" y="434.10" width="7.98" height="12.80" fill="#454545"/>
<rect x="81.54" y="434.10" width="7.98" height="12.80" fill="#454545"/>
<rect x="88.92" y="434.10" width="7.98" height="12.80" fill="#454545"/>
<rect x="96.31" y="434.10" width="7.98" height="12.80" fill="#454545"/>
<rect x="103.69" y="434.10" width="7.98" height="12.80" fill="#454545"/>
<rect x="111.08" y="434.10" width="7.98" height="12.80" fill="#454545"/>
<rect x="118.46" y="434.10" width="7.98" height="12.80" fill="#333333"/>
<rect x="125.85" y="434.10" width="7.98" height="12.80" fill="#262626"/>
<rect x="133.23" y="434.10" width="7.98" height="12.80" fill="#262626"/>
<rect x="140.62" y="434.10" width="7.98" height="12.80" fill="#262626"/>
<rect x="148.00" y="434.10" width="7.98" height="12.80" fill="#1a1a1a"/>
<rect x="155.38" y="434.10" width="7.98" height="12.80" fill="#141414"/>
<rect x="162.77" y="434.10" width="7.98" height="12.80" fill="#080808"/>
<rect x="170.15" y="434.10" width="7.98" height="12.80" fill="#080808"/>
<rect x="177.54" y="434.10" width="7.98" height="12.80" fill="#080808"/>
<rect x="184.92" y="434.10" width="7.98" height="12.80" fill="#080808"/>
<rect x="192.31" y="434.10" width="7.98" height="12.80" fill="#080808"/>
<rect x="199.69" y="434.10" width="7.98" height="12.80" fill="#080808"/>
<rect x="207.08" y="434.10" width="7.98" height="12.80" fill="#080808"/>
<rect x="214.46" y="434.10" width="7.98" height="12.80" fill="#080808"/>
<rect x="221.85" y="434.10" width="7.98" height="12.80" fill="#080808"/>
<rect x="229.23" y="434.10" width="7.98" height="12.80" fill="#080808"/>
<rect x="236.62" y="434.10" width="7.38" height="12.80" fill="#080808"/>
<rect x="52.00" y="446.30" width="7.98" height="12.20" fill="#595959"/>
<rect x="59.38" y="446.30" width="7.98" height="12.20" fill="#595959"/>
<rect x="66.77" y="446.30" width="7.98" height="12.20" fill="#4c4c4c"/>
<rect x="74.15" y="446.30" width="7.98" height="12.20" fill="#4c4c4c"/>
<rect x="81.54" y="446.30" width="7.98" height="12.20" fill="#4c4c4c"/>
<rect x="88.92" y="446.30" width="7.98" height="12.20" fill="#4c4c4c"/>
<rect x="96.31" y="446.30" width="7.98" height="12.20" fill="#4c4c4c"/>
<rect x="103.69" y="446.30" width="7.98" height="12.20" fill="#4c4c4c"/>
<rect x="111.08" y="446.30" width="7.98" height="12.20" fill="#404040"/>
<rect x="118.46" y="446.30" width="7.98" height="12.20" fill="#404040"/>
<rect x="125.85" y="446.30" width="7.98" height="12.20" fill="#2e2e2e"/>
<rect x="133.23" y="446.30" width="7.98" height="12.20" fill="#2e2e2e"/>
<rect x="140.62" y="446.30" width="7.98" height="12.20" fill="#2e2e2e"/>
<rect x="148.00" y="446.30" width="7.98" height="12.20" fill="#212121"/>
<rect x="155.38" y="446.30" width="7.98" height="12.20" fill="#1a1a1a"/>
<rect x="162.77" y="446.30" width="7.98" height="12.20" fill="#171717"/>
<rect x="170.15" y="446.30" width="7.98" height="12.20" fill="#171717"/>
<rect x="177.54" y="446.30" width="7.98" height="12.20" fill="#080808"/>
<rect x="184.92" y="446.30" width="7.98" height="12.20" fill="#080808"/>
<rect x="192.31" y="446.30" width="7.98" height="12.20" fill="#080808"/>
<rect x="199.69" y="446.30" width="7.98" height="12.20" fill="#080808"/>
<rect x="207.08" y="446.30" width="7.98" height="12.20" fill="#080808"/>
<rect x="214.46" y="446.30" width="7.98" height="12.20" fill="#080808"/>
<rect x="221.85" y="446.30" width="7.98" height="12.20" fill="#080808"/>
<rect x="229.23" y="446.30" width="7.98" height="12.20" fill="#080808"/>
<rect x="236.62" y="446.30" width="7.38" height="12.20" fill="#080808"/>
</g>
<rect x="52" y="275.5" width="192" height="183.0" fill="none" stroke="#111" stroke-width="0.8"/>
<polyline points="54.00,278.80 59.68,278.80 67.36,288.77 75.04,301.74 82.72,301.74 90.40,301.74 98.08,301.74 105.76,301.74 113.44,301.74 121.12,314.71 128.80,327.68 136.48,327.68 144.16,340.65 151.84,353.62 159.52,366.59 167.20,366.59 174.88,379.56 182.56,392.53 190.24,392.53 197.92,405.50 205.60,405.50 213.28,418.47 220.96,418.47 228.64,431.44 236.32,444.41 242.20,455.40" fill="none" stroke="#fff" stroke-width="1.6" stroke-linejoin="round"/>
<text transform="translate(242.60 278.10)" font-size="6" text-anchor="middle" fill="#111" stroke="#000" stroke-width="0.18">0</text>
<rect x="248.8" y="275.5" width="6.2" height="183.0" fill="url(#cb)" stroke="#888" stroke-width="0.6"/>
<text transform="translate(258.00 277.75) scale(0.9 1)" font-size="6.1" text-anchor="start" fill="#111" stroke="#000" stroke-width="0.18">1</text>
<line x1="253.6" y1="275.50" x2="255" y2="275.50" stroke="#555" stroke-width="0.5"/>
<text transform="translate(258.00 296.05) scale(0.9 1)" font-size="6.1" text-anchor="start" fill="#111" stroke="#000" stroke-width="0.18">0.9</text>
<line x1="253.6" y1="293.80" x2="255" y2="293.80" stroke="#555" stroke-width="0.5"/>
<text transform="translate(258.00 314.35) scale(0.9 1)" font-size="6.1" text-anchor="start" fill="#111" stroke="#000" stroke-width="0.18">0.8</text>
<line x1="253.6" y1="312.10" x2="255" y2="312.10" stroke="#555" stroke-width="0.5"/>
<text transform="translate(258.00 332.65) scale(0.9 1)" font-size="6.1" text-anchor="start" fill="#111" stroke="#000" stroke-width="0.18">0.7</text>
<line x1="253.6" y1="330.40" x2="255" y2="330.40" stroke="#555" stroke-width="0.5"/>
<text transform="translate(258.00 350.95) scale(0.9 1)" font-size="6.1" text-anchor="start" fill="#111" stroke="#000" stroke-width="0.18">0.6</text>
<line x1="253.6" y1="348.70" x2="255" y2="348.70" stroke="#555" stroke-width="0.5"/>
<text transform="translate(258.00 369.25) scale(0.9 1)" font-size="6.1" text-anchor="start" fill="#111" stroke="#000" stroke-width="0.18">0.5</text>
<line x1="253.6" y1="367.00" x2="255" y2="367.00" stroke="#555" stroke-width="0.5"/>
<text transform="translate(258.00 387.55) scale(0.9 1)" font-size="6.1" text-anchor="start" fill="#111" stroke="#000" stroke-width="0.18">0.4</text>
<line x1="253.6" y1="385.30" x2="255" y2="385.30" stroke="#555" stroke-width="0.5"/>
<text transform="translate(258.00 405.85) scale(0.9 1)" font-size="6.1" text-anchor="start" fill="#111" stroke="#000" stroke-width="0.18">0.3</text>
<line x1="253.6" y1="403.60" x2="255" y2="403.60" stroke="#555" stroke-width="0.5"/>
<text transform="translate(258.00 424.15) scale(0.9 1)" font-size="6.1" text-anchor="start" fill="#111" stroke="#000" stroke-width="0.18">0.2</text>
<line x1="253.6" y1="421.90" x2="255" y2="421.90" stroke="#555" stroke-width="0.5"/>
<text transform="translate(258.00 442.45) scale(0.9 1)" font-size="6.1" text-anchor="start" fill="#111" stroke="#000" stroke-width="0.18">0.1</text>
<line x1="253.6" y1="440.20" x2="255" y2="440.20" stroke="#555" stroke-width="0.5"/>
<text transform="translate(258.00 460.75) scale(0.9 1)" font-size="6.1" text-anchor="start" fill="#111" stroke="#000" stroke-width="0.18">0</text>
<line x1="253.6" y1="458.50" x2="255" y2="458.50" stroke="#555" stroke-width="0.5"/>
<text transform="translate(270.50 366.55) rotate(90)" font-size="6.9" text-anchor="middle" fill="#111" stroke="#000" stroke-width="0.18" textLength="26.9" lengthAdjust="spacingAndGlyphs">Distance</text>
<rect x="17.5" y="276.0" width="29.0" height="182.2" fill="#fff" stroke="#555" stroke-width="0.9"/>
<polyline points="17.50,275.50 18.27,288.57 20.47,301.64 22.89,314.71 24.31,327.79 25.95,340.86 27.37,353.93 29.73,367.00 33.82,380.07 34.01,393.14 38.25,406.21 41.32,419.29 42.06,432.36 43.62,445.43 43.80,458.50" fill="none" stroke="#6262ff" stroke-width="0.75"/>
<text transform="translate(16.20 277.00) scale(0.85 1)" font-size="4.2" text-anchor="end" fill="#222" stroke="#000" stroke-width="0.16">1</text>
<line x1="17.5" y1="275.50" x2="19.1" y2="275.50" stroke="#444" stroke-width="0.6"/>
<line x1="44.9" y1="275.50" x2="46.5" y2="275.50" stroke="#444" stroke-width="0.6"/>
<text transform="translate(16.20 290.07) scale(0.85 1)" font-size="4.2" text-anchor="end" fill="#222" stroke="#000" stroke-width="0.16">2</text>
<line x1="17.5" y1="288.57" x2="19.1" y2="288.57" stroke="#444" stroke-width="0.6"/>
<line x1="44.9" y1="288.57" x2="46.5" y2="288.57" stroke="#444" stroke-width="0.6"/>
<text transform="translate(16.20 303.14) scale(0.85 1)" font-size="4.2" text-anchor="end" fill="#222" stroke="#000" stroke-width="0.16">3</text>
<line x1="17.5" y1="301.64" x2="19.1" y2="301.64" stroke="#444" stroke-width="0.6"/>
<line x1="44.9" y1="301.64" x2="46.5" y2="301.64" stroke="#444" stroke-width="0.6"/>
<text transform="translate(16.20 316.21) scale(0.85 1)" font-size="4.2" text-anchor="end" fill="#222" stroke="#000" stroke-width="0.16">4</text>
<line x1="17.5" y1="314.71" x2="19.1" y2="314.71" stroke="#444" stroke-width="0.6"/>
<line x1="44.9" y1="314.71" x2="46.5" y2="314.71" stroke="#444" stroke-width="0.6"/>
<text transform="translate(16.20 329.29) scale(0.85 1)" font-size="4.2" text-anchor="end" fill="#222" stroke="#000" stroke-width="0.16">5</text>
<line x1="17.5" y1="327.79" x2="19.1" y2="327.79" stroke="#444" stroke-width="0.6"/>
<line x1="44.9" y1="327.79" x2="46.5" y2="327.79" stroke="#444" stroke-width="0.6"/>
<text transform="translate(16.20 342.36) scale(0.85 1)" font-size="4.2" text-anchor="end" fill="#222" stroke="#000" stroke-width="0.16">6</text>
<line x1="17.5" y1="340.86" x2="19.1" y2="340.86" stroke="#444" stroke-width="0.6"/>
<line x1="44.9" y1="340.86" x2="46.5" y2="340.86" stroke="#444" stroke-width="0.6"/>
<text transform="translate(16.20 355.43) scale(0.85 1)" font-size="4.2" text-anchor="end" fill="#222" stroke="#000" stroke-width="0.16">7</text>
<line x1="17.5" y1="353.93" x2="19.1" y2="353.93" stroke="#444" stroke-width="0.6"/>
<line x1="44.9" y1="353.93" x2="46.5" y2="353.93" stroke="#444" stroke-width="0.6"/>
<text transform="translate(16.20 368.50) scale(0.85 1)" font-size="4.2" text-anchor="end" fill="#222" stroke="#000" stroke-width="0.16">8</text>
<line x1="17.5" y1="367.00" x2="19.1" y2="367.00" stroke="#444" stroke-width="0.6"/>
<line x1="44.9" y1="367.00" x2="46.5" y2="367.00" stroke="#444" stroke-width="0.6"/>
<text transform="translate(16.20 381.57) scale(0.85 1)" font-size="4.2" text-anchor="end" fill="#222" stroke="#000" stroke-width="0.16">9</text>
<line x1="17.5" y1="380.07" x2="19.1" y2="380.07" stroke="#444" stroke-width="0.6"/>
<line x1="44.9" y1="380.07" x2="46.5" y2="380.07" stroke="#444" stroke-width="0.6"/>
<text transform="translate(16.20 394.64) scale(0.85 1)" font-size="4.2" text-anchor="end" fill="#222" stroke="#000" stroke-width="0.16">10</text>
<line x1="17.5" y1="393.14" x2="19.1" y2="393.14" stroke="#444" stroke-width="0.6"/>
<line x1="44.9" y1="393.14" x2="46.5" y2="393.14" stroke="#444" stroke-width="0.6"/>
<text transform="translate(16.20 407.71) scale(0.85 1)" font-size="4.2" text-anchor="end" fill="#222" stroke="#000" stroke-width="0.16">11</text>
<line x1="17.5" y1="406.21" x2="19.1" y2="406.21" stroke="#444" stroke-width="0.6"/>
<line x1="44.9" y1="406.21" x2="46.5" y2="406.21" stroke="#444" stroke-width="0.6"/>
<text transform="translate(16.20 420.79) scale(0.85 1)" font-size="4.2" text-anchor="end" fill="#222" stroke="#000" stroke-width="0.16">12</text>
<line x1="17.5" y1="419.29" x2="19.1" y2="419.29" stroke="#444" stroke-width="0.6"/>
<line x1="44.9" y1="419.29" x2="46.5" y2="419.29" stroke="#444" stroke-width="0.6"/>
<text transform="translate(16.20 433.86) scale(0.85 1)" font-size="4.2" text-anchor="end" fill="#222" stroke="#000" stroke-width="0.16">13</text>
<line x1="17.5" y1="432.36" x2="19.1" y2="432.36" stroke="#444" stroke-width="0.6"/>
<line x1="44.9" y1="432.36" x2="46.5" y2="432.36" stroke="#444" stroke-width="0.6"/>
<text transform="translate(16.20 446.93) scale(0.85 1)" font-size="4.2" text-anchor="end" fill="#222" stroke="#000" stroke-width="0.16">14</text>
<line x1="17.5" y1="445.43" x2="19.1" y2="445.43" stroke="#444" stroke-width="0.6"/>
<line x1="44.9" y1="445.43" x2="46.5" y2="445.43" stroke="#444" stroke-width="0.6"/>
<text transform="translate(16.20 460.00) scale(0.85 1)" font-size="4.2" text-anchor="end" fill="#222" stroke="#000" stroke-width="0.16">15</text>
<line x1="17.5" y1="458.50" x2="19.1" y2="458.50" stroke="#444" stroke-width="0.6"/>
<line x1="44.9" y1="458.50" x2="46.5" y2="458.50" stroke="#444" stroke-width="0.6"/>
<text transform="translate(17.50 463.10) scale(0.85 1)" font-size="4.2" text-anchor="middle" fill="#222" stroke="#000" stroke-width="0.16">0</text>
<text transform="translate(30.65 463.10) scale(0.85 1)" font-size="4.2" text-anchor="middle" fill="#222" stroke="#000" stroke-width="0.16">0.5</text>
<line x1="30.65" y1="276.0" x2="30.65" y2="277.6" stroke="#444" stroke-width="0.6"/>
<line x1="30.65" y1="456.5" x2="30.65" y2="458.2" stroke="#444" stroke-width="0.6"/>
<text transform="translate(43.80 463.10) scale(0.85 1)" font-size="4.2" text-anchor="middle" fill="#222" stroke="#000" stroke-width="0.16">1</text>
<line x1="43.80" y1="276.0" x2="43.80" y2="277.6" stroke="#444" stroke-width="0.6"/>
<line x1="43.80" y1="456.5" x2="43.80" y2="458.2" stroke="#444" stroke-width="0.6"/>
<text transform="translate(31.85 470.00)" font-size="6.9" text-anchor="middle" fill="#111" stroke="#000" stroke-width="0.18" textLength="13.1" lengthAdjust="spacingAndGlyphs">DoF</text>
<text transform="translate(5.70 367.40) rotate(90)" font-size="7.1" text-anchor="middle" fill="#111" stroke="#000" stroke-width="0.18" textLength="109" lengthAdjust="spacingAndGlyphs">Failure time series of Escalator #6</text>
<rect x="52.5" y="462.4" width="191.7" height="23.600000000000023" fill="#fff" stroke="#555" stroke-width="0.9"/>
<polyline points="52.00,485.70 59.68,485.49 67.36,484.27 75.04,483.75 82.72,483.60 90.40,483.24 98.08,483.15 105.76,483.15 113.44,482.81 121.12,481.85 128.80,480.39 136.48,479.86 144.16,479.21 151.84,476.31 159.52,475.71 167.20,474.26 174.88,473.21 182.56,472.51 190.24,472.21 197.92,470.58 205.60,470.46 213.28,467.84 220.96,467.69 228.64,466.21 236.32,464.98 244.00,464.70" fill="none" stroke="#ff6a6a" stroke-width="0.75"/>
<text transform="translate(82.72 490.80) scale(0.85 1)" font-size="4.2" text-anchor="middle" fill="#222" stroke="#000" stroke-width="0.16">5</text>
<line x1="82.72" y1="462.4" x2="82.72" y2="464.0" stroke="#444" stroke-width="0.6"/>
<line x1="82.72" y1="484.4" x2="82.72" y2="486.0" stroke="#444" stroke-width="0.6"/>
<text transform="translate(121.12 490.80) scale(0.85 1)" font-size="4.2" text-anchor="middle" fill="#222" stroke="#000" stroke-width="0.16">10</text>
<line x1="121.12" y1="462.4" x2="121.12" y2="464.0" stroke="#444" stroke-width="0.6"/>
<line x1="121.12" y1="484.4" x2="121.12" y2="486.0" stroke="#444" stroke-width="0.6"/>
<text transform="translate(159.52 490.80) scale(0.85 1)" font-size="4.2" text-anchor="middle" fill="#222" stroke="#000" stroke-width="0.16">15</text>
<line x1="159.52" y1="462.4" x2="159.52" y2="464.0" stroke="#444" stroke-width="0.6"/>
<line x1="159.52" y1="484.4" x2="159.52" y2="486.0" stroke="#444" stroke-width="0.6"/>
<text transform="translate(197.92 490.80) scale(0.85 1)" font-size="4.2" text-anchor="middle" fill="#222" stroke="#000" stroke-width="0.16">20</text>
<line x1="197.92" y1="462.4" x2="197.92" y2="464.0" stroke="#444" stroke-width="0.6"/>
<line x1="197.92" y1="484.4" x2="197.92" y2="486.0" stroke="#444" stroke-width="0.6"/>
<text transform="translate(236.32 490.80) scale(0.85 1)" font-size="4.2" text-anchor="middle" fill="#222" stroke="#000" stroke-width="0.16">25</text>
<line x1="236.32" y1="462.4" x2="236.32" y2="464.0" stroke="#444" stroke-width="0.6"/>
<line x1="236.32" y1="484.4" x2="236.32" y2="486.0" stroke="#444" stroke-width="0.6"/>
<text transform="translate(245.20 487.20) scale(0.85 1)" font-size="4.2" text-anchor="start" fill="#222" stroke="#000" stroke-width="0.16">0</text>
<line x1="52.5" y1="475.20" x2="54.1" y2="475.20" stroke="#444" stroke-width="0.6"/>
<line x1="242.6" y1="475.20" x2="244" y2="475.20" stroke="#444" stroke-width="0.6"/>
<text transform="translate(245.20 476.70) scale(0.85 1)" font-size="4.2" text-anchor="start" fill="#222" stroke="#000" stroke-width="0.16">0.5</text>
<line x1="52.5" y1="464.70" x2="54.1" y2="464.70" stroke="#444" stroke-width="0.6"/>
<line x1="242.6" y1="464.70" x2="244" y2="464.70" stroke="#444" stroke-width="0.6"/>
<text transform="translate(245.20 466.20) scale(0.85 1)" font-size="4.2" text-anchor="start" fill="#222" stroke="#000" stroke-width="0.16">1</text>
<text transform="translate(253.20 474.00) rotate(90)" font-size="6.9" text-anchor="middle" fill="#111" stroke="#000" stroke-width="0.18" textLength="12.8" lengthAdjust="spacingAndGlyphs">DoF</text>
<text transform="translate(147.75 497.70)" font-size="7.1" text-anchor="middle" fill="#111" stroke="#000" stroke-width="0.18" textLength="106.5" lengthAdjust="spacingAndGlyphs">Failure time series of Escalator #3</text>
<text x="284" y="526.70" font-size="12" style="font-family:'Liberation Serif', serif;font-weight:bold" text-anchor="middle" fill="#111">(e)</text>
<line x1="336.38" y1="288.5" x2="336.38" y2="476.5" stroke="#e4e4e4" stroke-width="0.6"/>
<text transform="translate(336.38 482.20) scale(0.82 1)" font-size="4.9" text-anchor="middle" fill="#222" stroke="#000" stroke-width="0.16">5</text>
<line x1="336.38" y1="475.2" x2="336.38" y2="476.5" stroke="#666" stroke-width="0.5"/>
<line x1="355.48" y1="288.5" x2="355.48" y2="476.5" stroke="#e4e4e4" stroke-width="0.6"/>
<text transform="translate(355.48 482.20) scale(0.82 1)" font-size="4.9" text-anchor="middle" fill="#222" stroke="#000" stroke-width="0.16">10</text>
<line x1="355.48" y1="475.2" x2="355.48" y2="476.5" stroke="#666" stroke-width="0.5"/>
<line x1="374.58" y1="288.5" x2="374.58" y2="476.5" stroke="#e4e4e4" stroke-width="0.6"/>
<text transform="translate(374.58 482.20) scale(0.82 1)" font-size="4.9" text-anchor="middle" fill="#222" stroke="#000" stroke-width="0.16">15</text>
<line x1="374.58" y1="475.2" x2="374.58" y2="476.5" stroke="#666" stroke-width="0.5"/>
<line x1="393.68" y1="288.5" x2="393.68" y2="476.5" stroke="#e4e4e4" stroke-width="0.6"/>
<text transform="translate(393.68 482.20) scale(0.82 1)" font-size="4.9" text-anchor="middle" fill="#222" stroke="#000" stroke-width="0.16">20</text>
<line x1="393.68" y1="475.2" x2="393.68" y2="476.5" stroke="#666" stroke-width="0.5"/>
<line x1="412.78" y1="288.5" x2="412.78" y2="476.5" stroke="#e4e4e4" stroke-width="0.6"/>
<text transform="translate(412.78 482.20) scale(0.82 1)" font-size="4.9" text-anchor="middle" fill="#222" stroke="#000" stroke-width="0.16">25</text>
<line x1="412.78" y1="475.2" x2="412.78" y2="476.5" stroke="#666" stroke-width="0.5"/>
<line x1="321.1" y1="440.00" x2="417" y2="440.00" stroke="#e4e4e4" stroke-width="0.6"/>
<text transform="translate(320.10 441.80) scale(0.8 1)" font-size="5.0" text-anchor="end" fill="#222" stroke="#000" stroke-width="0.16">500</text>
<line x1="321.1" y1="440.00" x2="322.40000000000003" y2="440.00" stroke="#666" stroke-width="0.5"/>
<line x1="321.1" y1="402.10" x2="417" y2="402.10" stroke="#e4e4e4" stroke-width="0.6"/>
<text transform="translate(320.10 403.90) scale(0.8 1)" font-size="5.0" text-anchor="end" fill="#222" stroke="#000" stroke-width="0.16">1000</text>
<line x1="321.1" y1="402.10" x2="322.40000000000003" y2="402.10" stroke="#666" stroke-width="0.5"/>
<line x1="321.1" y1="364.20" x2="417" y2="364.20" stroke="#e4e4e4" stroke-width="0.6"/>
<text transform="translate(320.10 366.00) scale(0.8 1)" font-size="5.0" text-anchor="end" fill="#222" stroke="#000" stroke-width="0.16">1500</text>
<line x1="321.1" y1="364.20" x2="322.40000000000003" y2="364.20" stroke="#666" stroke-width="0.5"/>
<line x1="321.1" y1="326.30" x2="417" y2="326.30" stroke="#e4e4e4" stroke-width="0.6"/>
<text transform="translate(320.10 328.10) scale(0.8 1)" font-size="5.0" text-anchor="end" fill="#222" stroke="#000" stroke-width="0.16">2000</text>
<line x1="321.1" y1="326.30" x2="322.40000000000003" y2="326.30" stroke="#666" stroke-width="0.5"/>
<line x1="321.1" y1="288.5" x2="321.1" y2="477.1" stroke="#7a7a7a" stroke-width="1.2"/>
<line x1="320.5" y1="476.5" x2="417" y2="476.5" stroke="#7a7a7a" stroke-width="1.2"/>
<polyline points="321.10,475.70 324.92,474.03 328.74,464.41 332.56,460.31 336.38,459.18 340.20,456.30 344.02,455.61 347.84,455.61 351.66,452.96 355.48,445.38 359.30,433.86 363.12,429.69 366.94,424.61 370.76,401.72 374.58,397.02 378.40,385.58 382.22,377.31 386.04,371.78 389.86,369.43 393.68,356.62 397.50,355.71 401.32,335.02 405.14,333.88 408.96,322.21 412.78,312.50 416.60,310.31" fill="none" stroke="#ff5a5a" stroke-width="0.6" stroke-dasharray="0.9,0.7"/>
<circle cx="321.10" cy="475.70" r="0.85" fill="#f01010"/>
<circle cx="324.92" cy="474.03" r="0.85" fill="#f01010"/>
<circle cx="328.74" cy="464.41" r="0.85" fill="#f01010"/>
<circle cx="332.56" cy="460.31" r="0.85" fill="#f01010"/>
<circle cx="336.38" cy="459.18" r="0.85" fill="#f01010"/>
<circle cx="340.20" cy="456.30" r="0.85" fill="#f01010"/>
<circle cx="344.02" cy="455.61" r="0.85" fill="#f01010"/>
<circle cx="347.84" cy="455.61" r="0.85" fill="#f01010"/>
<circle cx="351.66" cy="452.96" r="0.85" fill="#f01010"/>
<circle cx="355.48" cy="445.38" r="0.85" fill="#f01010"/>
<circle cx="359.30" cy="433.86" r="0.85" fill="#f01010"/>
<circle cx="363.12" cy="429.69" r="0.85" fill="#f01010"/>
<circle cx="366.94" cy="424.61" r="0.85" fill="#f01010"/>
<circle cx="370.76" cy="401.72" r="0.85" fill="#f01010"/>
<circle cx="374.58" cy="397.02" r="0.85" fill="#f01010"/>
<circle cx="378.40" cy="385.58" r="0.85" fill="#f01010"/>
<circle cx="382.22" cy="377.31" r="0.85" fill="#f01010"/>
<circle cx="386.04" cy="371.78" r="0.85" fill="#f01010"/>
<circle cx="389.86" cy="369.43" r="0.85" fill="#f01010"/>
<circle cx="393.68" cy="356.62" r="0.85" fill="#f01010"/>
<circle cx="397.50" cy="355.71" r="0.85" fill="#f01010"/>
<circle cx="401.32" cy="335.02" r="0.85" fill="#f01010"/>
<circle cx="405.14" cy="333.88" r="0.85" fill="#f01010"/>
<circle cx="408.96" cy="322.21" r="0.85" fill="#f01010"/>
<circle cx="412.78" cy="312.50" r="0.85" fill="#f01010"/>
<circle cx="416.60" cy="310.31" r="0.85" fill="#f01010"/>
<polyline points="321.10,475.93 324.92,470.93 328.74,456.68 332.56,440.99 336.38,431.81 340.20,421.13 344.02,411.95 347.84,396.64 351.66,370.11 355.48,368.90 359.30,341.46 363.12,321.52 366.94,316.75 370.76,306.59 374.58,305.45" fill="none" stroke="#5050ff" stroke-width="0.65"/>
<path d="M319.90,474.73L322.30,477.13M319.90,477.13L322.30,474.73" stroke="#1010f0" stroke-width="1.15"/>
<path d="M323.72,469.73L326.12,472.13M323.72,472.13L326.12,469.73" stroke="#1010f0" stroke-width="1.15"/>
<path d="M327.54,455.48L329.94,457.88M327.54,457.88L329.94,455.48" stroke="#1010f0" stroke-width="1.15"/>
<path d="M331.36,439.79L333.76,442.19M331.36,442.19L333.76,439.79" stroke="#1010f0" stroke-width="1.15"/>
<path d="M335.18,430.61L337.58,433.01M335.18,433.01L337.58,430.61" stroke="#1010f0" stroke-width="1.15"/>
<path d="M339.00,419.93L341.40,422.33M339.00,422.33L341.40,419.93" stroke="#1010f0" stroke-width="1.15"/>
<path d="M342.82,410.75L345.22,413.15M342.82,413.15L345.22,410.75" stroke="#1010f0" stroke-width="1.15"/>
<path d="M346.64,395.44L349.04,397.84M346.64,397.84L349.04,395.44" stroke="#1010f0" stroke-width="1.15"/>
<path d="M350.46,368.91L352.86,371.31M350.46,371.31L352.86,368.91" stroke="#1010f0" stroke-width="1.15"/>
<path d="M354.28,367.70L356.68,370.10M354.28,370.10L356.68,367.70" stroke="#1010f0" stroke-width="1.15"/>
<path d="M358.10,340.26L360.50,342.66M358.10,342.66L360.50,340.26" stroke="#1010f0" stroke-width="1.15"/>
<path d="M361.92,320.32L364.32,322.72M361.92,322.72L364.32,320.32" stroke="#1010f0" stroke-width="1.15"/>
<path d="M365.74,315.55L368.14,317.95M365.74,317.95L368.14,315.55" stroke="#1010f0" stroke-width="1.15"/>
<path d="M369.56,305.39L371.96,307.79M369.56,307.79L371.96,305.39" stroke="#1010f0" stroke-width="1.15"/>
<path d="M373.38,304.25L375.78,306.65M373.38,306.65L375.78,304.25" stroke="#1010f0" stroke-width="1.15"/>
<text transform="translate(368.75 285.10)" font-size="7.2" text-anchor="middle" fill="#111" stroke="#000" stroke-width="0.18" textLength="63.5" lengthAdjust="spacingAndGlyphs">Original Time Series</text>
<text transform="translate(368.00 490.60)" font-size="7.0" text-anchor="middle" fill="#111" stroke="#000" stroke-width="0.18" textLength="40.1" lengthAdjust="spacingAndGlyphs">Failure times</text>
<text transform="translate(304.50 382.40) rotate(90)" font-size="7.05" text-anchor="middle" fill="#111" stroke="#000" stroke-width="0.18" textLength="44.2" lengthAdjust="spacingAndGlyphs">Day of Failure</text>
<rect x="357.40" y="289.10" width="54.90" height="10.90" fill="#fff" stroke="#777" stroke-width="0.5"/>
<line x1="359.90" y1="292.00" x2="377.40" y2="292.00" stroke="#5a5aff" stroke-width="0.6"/>
<path d="M367.25,290.85L369.55,293.15M367.25,293.15L369.55,290.85" stroke="#1010f0" stroke-width="1.0"/>
<text transform="translate(378.80 293.45)" font-size="4.1" text-anchor="start" fill="#111" stroke="#000" stroke-width="0.07" textLength="31.6" lengthAdjust="spacingAndGlyphs">Original curve of #6</text>
<line x1="359.90" y1="296.70" x2="377.40" y2="296.70" stroke="#ff6a6a" stroke-width="0.55" stroke-dasharray="0.9,0.7"/>
<circle cx="368.40" cy="296.70" r="0.8" fill="#f01010"/>
<text transform="translate(378.80 298.15)" font-size="4.1" text-anchor="start" fill="#111" stroke="#000" stroke-width="0.07" textLength="31.6" lengthAdjust="spacingAndGlyphs">Original curve of #3</text>
<line x1="462.28" y1="288.5" x2="462.28" y2="476.5" stroke="#e4e4e4" stroke-width="0.6"/>
<text transform="translate(462.28 482.20) scale(0.82 1)" font-size="4.9" text-anchor="middle" fill="#222" stroke="#000" stroke-width="0.16">5</text>
<line x1="462.28" y1="475.2" x2="462.28" y2="476.5" stroke="#666" stroke-width="0.5"/>
<line x1="481.51" y1="288.5" x2="481.51" y2="476.5" stroke="#e4e4e4" stroke-width="0.6"/>
<text transform="translate(481.51 482.20) scale(0.82 1)" font-size="4.9" text-anchor="middle" fill="#222" stroke="#000" stroke-width="0.16">10</text>
<line x1="481.51" y1="475.2" x2="481.51" y2="476.5" stroke="#666" stroke-width="0.5"/>
<line x1="500.74" y1="288.5" x2="500.74" y2="476.5" stroke="#e4e4e4" stroke-width="0.6"/>
<text transform="translate(500.74 482.20) scale(0.82 1)" font-size="4.9" text-anchor="middle" fill="#222" stroke="#000" stroke-width="0.16">15</text>
<line x1="500.74" y1="475.2" x2="500.74" y2="476.5" stroke="#666" stroke-width="0.5"/>
<line x1="519.97" y1="288.5" x2="519.97" y2="476.5" stroke="#e4e4e4" stroke-width="0.6"/>
<text transform="translate(519.97 482.20) scale(0.82 1)" font-size="4.9" text-anchor="middle" fill="#222" stroke="#000" stroke-width="0.16">20</text>
<line x1="519.97" y1="475.2" x2="519.97" y2="476.5" stroke="#666" stroke-width="0.5"/>
<line x1="539.20" y1="288.5" x2="539.20" y2="476.5" stroke="#e4e4e4" stroke-width="0.6"/>
<text transform="translate(539.20 482.20) scale(0.82 1)" font-size="4.9" text-anchor="middle" fill="#222" stroke="#000" stroke-width="0.16">25</text>
<line x1="539.20" y1="475.2" x2="539.20" y2="476.5" stroke="#666" stroke-width="0.5"/>
<line x1="446.9" y1="440.00" x2="542.6" y2="440.00" stroke="#e4e4e4" stroke-width="0.6"/>
<text transform="translate(445.90 441.80) scale(0.8 1)" font-size="5.0" text-anchor="end" fill="#222" stroke="#000" stroke-width="0.16">500</text>
<line x1="446.9" y1="440.00" x2="448.2" y2="440.00" stroke="#666" stroke-width="0.5"/>
<line x1="446.9" y1="402.10" x2="542.6" y2="402.10" stroke="#e4e4e4" stroke-width="0.6"/>
<text transform="translate(445.90 403.90) scale(0.8 1)" font-size="5.0" text-anchor="end" fill="#222" stroke="#000" stroke-width="0.16">1000</text>
<line x1="446.9" y1="402.10" x2="448.2" y2="402.10" stroke="#666" stroke-width="0.5"/>
<line x1="446.9" y1="364.20" x2="542.6" y2="364.20" stroke="#e4e4e4" stroke-width="0.6"/>
<text transform="translate(445.90 366.00) scale(0.8 1)" font-size="5.0" text-anchor="end" fill="#222" stroke="#000" stroke-width="0.16">1500</text>
<line x1="446.9" y1="364.20" x2="448.2" y2="364.20" stroke="#666" stroke-width="0.5"/>
<line x1="446.9" y1="326.30" x2="542.6" y2="326.30" stroke="#e4e4e4" stroke-width="0.6"/>
<text transform="translate(445.90 328.10) scale(0.8 1)" font-size="5.0" text-anchor="end" fill="#222" stroke="#000" stroke-width="0.16">2000</text>
<line x1="446.9" y1="326.30" x2="448.2" y2="326.30" stroke="#666" stroke-width="0.5"/>
<line x1="446.9" y1="288.5" x2="446.9" y2="477.1" stroke="#7a7a7a" stroke-width="1.2"/>
<line x1="446.29999999999995" y1="476.5" x2="542.6" y2="476.5" stroke="#7a7a7a" stroke-width="1.2"/>
<polyline points="446.90,475.70 450.75,474.03 454.59,464.41 458.44,460.31 462.28,459.18 466.13,456.30 469.98,455.61 473.82,455.61 477.67,452.96 481.51,445.38 485.36,433.86 489.21,429.69 493.05,424.61 496.90,401.72 500.74,397.02 504.59,385.58 508.44,377.31 512.28,371.78 516.13,369.43 519.97,356.62 523.82,355.71 527.67,335.02 531.51,333.88 535.36,322.21 539.20,312.50 543.05,310.31" fill="none" stroke="#ff5a5a" stroke-width="0.6" stroke-dasharray="0.9,0.7"/>
<circle cx="446.90" cy="475.70" r="0.85" fill="#f01010"/>
<circle cx="450.75" cy="474.03" r="0.85" fill="#f01010"/>
<circle cx="454.59" cy="464.41" r="0.85" fill="#f01010"/>
<circle cx="458.44" cy="460.31" r="0.85" fill="#f01010"/>
<circle cx="462.28" cy="459.18" r="0.85" fill="#f01010"/>
<circle cx="466.13" cy="456.30" r="0.85" fill="#f01010"/>
<circle cx="469.98" cy="455.61" r="0.85" fill="#f01010"/>
<circle cx="473.82" cy="455.61" r="0.85" fill="#f01010"/>
<circle cx="477.67" cy="452.96" r="0.85" fill="#f01010"/>
<circle cx="481.51" cy="445.38" r="0.85" fill="#f01010"/>
<circle cx="485.36" cy="433.86" r="0.85" fill="#f01010"/>
<circle cx="489.21" cy="429.69" r="0.85" fill="#f01010"/>
<circle cx="493.05" cy="424.61" r="0.85" fill="#f01010"/>
<circle cx="496.90" cy="401.72" r="0.85" fill="#f01010"/>
<circle cx="500.74" cy="397.02" r="0.85" fill="#f01010"/>
<circle cx="504.59" cy="385.58" r="0.85" fill="#f01010"/>
<circle cx="508.44" cy="377.31" r="0.85" fill="#f01010"/>
<circle cx="512.28" cy="371.78" r="0.85" fill="#f01010"/>
<circle cx="516.13" cy="369.43" r="0.85" fill="#f01010"/>
<circle cx="519.97" cy="356.62" r="0.85" fill="#f01010"/>
<circle cx="523.82" cy="355.71" r="0.85" fill="#f01010"/>
<circle cx="527.67" cy="335.02" r="0.85" fill="#f01010"/>
<circle cx="531.51" cy="333.88" r="0.85" fill="#f01010"/>
<circle cx="535.36" cy="322.21" r="0.85" fill="#f01010"/>
<circle cx="539.20" cy="312.50" r="0.85" fill="#f01010"/>
<circle cx="543.05" cy="310.31" r="0.85" fill="#f01010"/>
<polyline points="446.90,475.93 450.75,475.93 454.59,470.93 458.44,456.68 462.28,456.68 466.13,456.68 469.98,456.68 473.82,456.68 477.67,456.68 481.51,440.99 485.36,431.81 489.21,431.81 493.05,421.13 496.90,411.95 500.74,396.64 504.59,396.64 508.44,370.11 512.28,368.90 516.13,368.90 519.97,341.46 523.82,341.46 527.67,321.52 531.51,321.52 535.36,316.75 539.20,306.59 543.05,305.45" fill="none" stroke="#5050ff" stroke-width="0.65"/>
<path d="M445.70,474.73L448.10,477.13M445.70,477.13L448.10,474.73" stroke="#1010f0" stroke-width="1.15"/>
<path d="M449.55,474.73L451.95,477.13M449.55,477.13L451.95,474.73" stroke="#1010f0" stroke-width="1.15"/>
<path d="M453.39,469.73L455.79,472.13M453.39,472.13L455.79,469.73" stroke="#1010f0" stroke-width="1.15"/>
<path d="M457.24,455.48L459.64,457.88M457.24,457.88L459.64,455.48" stroke="#1010f0" stroke-width="1.15"/>
<path d="M461.08,455.48L463.48,457.88M461.08,457.88L463.48,455.48" stroke="#1010f0" stroke-width="1.15"/>
<path d="M464.93,455.48L467.33,457.88M464.93,457.88L467.33,455.48" stroke="#1010f0" stroke-width="1.15"/>
<path d="M468.78,455.48L471.18,457.88M468.78,457.88L471.18,455.48" stroke="#1010f0" stroke-width="1.15"/>
<path d="M472.62,455.48L475.02,457.88M472.62,457.88L475.02,455.48" stroke="#1010f0" stroke-width="1.15"/>
<path d="M476.47,455.48L478.87,457.88M476.47,457.88L478.87,455.48" stroke="#1010f0" stroke-width="1.15"/>
<path d="M480.31,439.79L482.71,442.19M480.31,442.19L482.71,439.79" stroke="#1010f0" stroke-width="1.15"/>
<path d="M484.16,430.61L486.56,433.01M484.16,433.01L486.56,430.61" stroke="#1010f0" stroke-width="1.15"/>
<path d="M488.01,430.61L490.41,433.01M488.01,433.01L490.41,430.61" stroke="#1010f0" stroke-width="1.15"/>
<path d="M491.85,419.93L494.25,422.33M491.85,422.33L494.25,419.93" stroke="#1010f0" stroke-width="1.15"/>
<path d="M495.70,410.75L498.10,413.15M495.70,413.15L498.10,410.75" stroke="#1010f0" stroke-width="1.15"/>
<path d="M499.54,395.44L501.94,397.84M499.54,397.84L501.94,395.44" stroke="#1010f0" stroke-width="1.15"/>
<path d="M503.39,395.44L505.79,397.84M503.39,397.84L505.79,395.44" stroke="#1010f0" stroke-width="1.15"/>
<path d="M507.24,368.91L509.64,371.31M507.24,371.31L509.64,368.91" stroke="#1010f0" stroke-width="1.15"/>
<path d="M511.08,367.70L513.48,370.10M511.08,370.10L513.48,367.70" stroke="#1010f0" stroke-width="1.15"/>
<path d="M514.93,367.70L517.33,370.10M514.93,370.10L517.33,367.70" stroke="#1010f0" stroke-width="1.15"/>
<path d="M518.77,340.26L521.17,342.66M518.77,342.66L521.17,340.26" stroke="#1010f0" stroke-width="1.15"/>
<path d="M522.62,340.26L525.02,342.66M522.62,342.66L525.02,340.26" stroke="#1010f0" stroke-width="1.15"/>
<path d="M526.47,320.32L528.87,322.72M526.47,322.72L528.87,320.32" stroke="#1010f0" stroke-width="1.15"/>
<path d="M530.31,320.32L532.71,322.72M530.31,322.72L532.71,320.32" stroke="#1010f0" stroke-width="1.15"/>
<path d="M534.16,315.55L536.56,317.95M534.16,317.95L536.56,315.55" stroke="#1010f0" stroke-width="1.15"/>
<path d="M538.00,305.39L540.40,307.79M538.00,307.79L540.40,305.39" stroke="#1010f0" stroke-width="1.15"/>
<path d="M541.85,304.25L544.25,306.65M541.85,306.65L544.25,304.25" stroke="#1010f0" stroke-width="1.15"/>
<text transform="translate(494.45 285.10)" font-size="7.2" text-anchor="middle" fill="#111" stroke="#000" stroke-width="0.18" textLength="63.5" lengthAdjust="spacingAndGlyphs">Warped Time Series</text>
<text transform="translate(495.00 490.60)" font-size="7.0" text-anchor="middle" fill="#111" stroke="#000" stroke-width="0.18" textLength="40.1" lengthAdjust="spacingAndGlyphs">Failure times</text>
<text transform="translate(430.30 382.40) rotate(90)" font-size="7.05" text-anchor="middle" fill="#111" stroke="#000" stroke-width="0.18" textLength="44.2" lengthAdjust="spacingAndGlyphs">Day of Failure</text>
<rect x="483.00" y="289.10" width="54.90" height="10.90" fill="#fff" stroke="#777" stroke-width="0.5"/>
<line x1="485.50" y1="292.00" x2="503.00" y2="292.00" stroke="#5a5aff" stroke-width="0.6"/>
<path d="M492.85,290.85L495.15,293.15M492.85,293.15L495.15,290.85" stroke="#1010f0" stroke-width="1.0"/>
<text transform="translate(504.40 293.45)" font-size="4.1" text-anchor="start" fill="#111" stroke="#000" stroke-width="0.07" textLength="32.5" lengthAdjust="spacingAndGlyphs">Warped curve of #6</text>
<line x1="485.50" y1="296.70" x2="503.00" y2="296.70" stroke="#ff6a6a" stroke-width="0.55" stroke-dasharray="0.9,0.7"/>
<circle cx="494.00" cy="296.70" r="0.8" fill="#f01010"/>
<text transform="translate(504.40 298.15)" font-size="4.1" text-anchor="start" fill="#111" stroke="#000" stroke-width="0.07" textLength="32.5" lengthAdjust="spacingAndGlyphs">Warped curve of #3</text>
</svg></body></html>
